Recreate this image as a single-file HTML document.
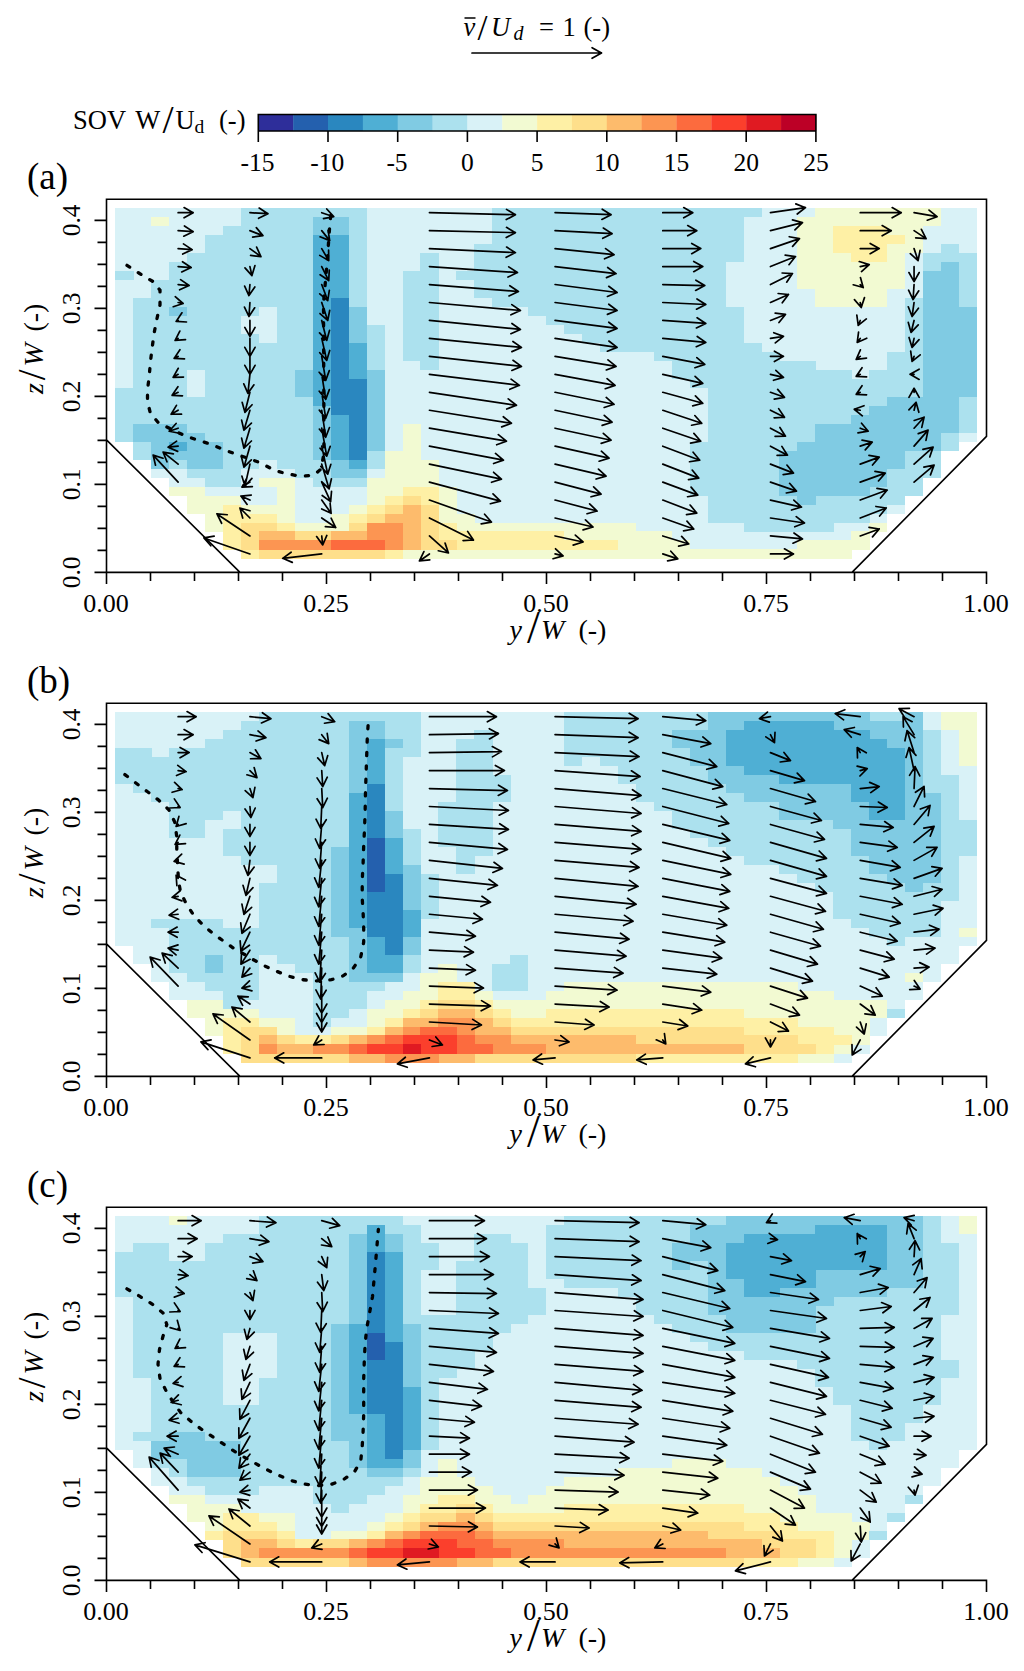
<!DOCTYPE html>
<html><head><meta charset="utf-8"><title>Figure</title>
<style>html,body{margin:0;padding:0;background:#fff}svg{display:block}text{font-family:"Liberation Serif", serif;fill:#000}</style></head><body>
<svg width="1024" height="1671" viewBox="0 0 1024 1671">
<rect width="1024" height="1671" fill="#fff"/>
<text y="35.5" font-size="26.5"><tspan x="463.5" font-style="italic">v</tspan><tspan x="477.5" font-size="36" dy="4">/</tspan><tspan x="491" dy="-4" font-style="italic">U</tspan><tspan x="513.5" font-style="italic" font-size="20" dy="4.5">d</tspan><tspan x="539" dy="-4.5">=</tspan><tspan x="562.5">1</tspan><tspan x="583.5">(-)</tspan></text>
<path d="M464.5 18h11" stroke="#000" stroke-width="1.5"/>
<path d="M472 53L601.5 53M592.1 47.68L601.5 53M592.1 58.32L601.5 53" fill="none" stroke="#000" stroke-width="1.7" stroke-linecap="round"/>
<rect x="258.3" y="114.5" width="35.15" height="16.5" fill="#2E2E9A"/>
<rect x="293.15" y="114.5" width="35.15" height="16.5" fill="#2460AE"/>
<rect x="328" y="114.5" width="35.15" height="16.5" fill="#2A87BF"/>
<rect x="362.85" y="114.5" width="35.15" height="16.5" fill="#4FAFD4"/>
<rect x="397.7" y="114.5" width="35.15" height="16.5" fill="#80CBE3"/>
<rect x="432.55" y="114.5" width="35.15" height="16.5" fill="#ACE1EE"/>
<rect x="467.4" y="114.5" width="35.15" height="16.5" fill="#D9F2F7"/>
<rect x="502.25" y="114.5" width="35.15" height="16.5" fill="#F2FAD2"/>
<rect x="537.1" y="114.5" width="35.15" height="16.5" fill="#FEF0A5"/>
<rect x="571.95" y="114.5" width="35.15" height="16.5" fill="#FEDF8B"/>
<rect x="606.8" y="114.5" width="35.15" height="16.5" fill="#FDBB6C"/>
<rect x="641.65" y="114.5" width="35.15" height="16.5" fill="#FC9552"/>
<rect x="676.5" y="114.5" width="35.15" height="16.5" fill="#FC6B3E"/>
<rect x="711.35" y="114.5" width="35.15" height="16.5" fill="#FB3F2C"/>
<rect x="746.2" y="114.5" width="35.15" height="16.5" fill="#E01A22"/>
<rect x="781.05" y="114.5" width="35.15" height="16.5" fill="#BC0026"/>
<path d="M258.3 131V114.5H815.9V131M258.3 131H815.9M258.3 131v11M328 131v11M397.7 131v11M467.4 131v11M537.1 131v11M606.8 131v11M676.5 131v11M746.2 131v11M815.9 131v11" fill="none" stroke="#000" stroke-width="1.6"/>
<text x="257.6" y="171.3" text-anchor="middle" font-size="25.5">-15</text>
<text x="327.3" y="171.3" text-anchor="middle" font-size="25.5">-10</text>
<text x="397" y="171.3" text-anchor="middle" font-size="25.5">-5</text>
<text x="467.4" y="171.3" text-anchor="middle" font-size="25.5">0</text>
<text x="537.1" y="171.3" text-anchor="middle" font-size="25.5">5</text>
<text x="606.8" y="171.3" text-anchor="middle" font-size="25.5">10</text>
<text x="676.5" y="171.3" text-anchor="middle" font-size="25.5">15</text>
<text x="746.2" y="171.3" text-anchor="middle" font-size="25.5">20</text>
<text x="815.9" y="171.3" text-anchor="middle" font-size="25.5">25</text>
<text y="129.2" font-size="26.5"><tspan x="73">SOV</tspan><tspan x="135.2">W</tspan><tspan x="162.5" font-size="40" dy="4">/</tspan><tspan x="175.5" dy="-4">U</tspan><tspan x="194.5" font-size="19.5" dy="3.6">d</tspan><tspan x="219" dy="-3.6">(-)</tspan></text>
<g shape-rendering="crispEdges"><path fill="#D9F2F7" d="M115.3 208.2h125.95v9.28h-125.95zM366.6 208.2h125.95v36.22h-125.95zM761.5 208.2h54.15v9.28h-54.15zM941 208.2h36.2v18.26h-36.2zM115.3 217.18h36.2v9.28h-36.2zM115.3 280.04h36.2v18.26h-36.2zM169.15 217.18h72.1v9.28h-72.1zM743.55 217.18h54.15v45.2h-54.15zM115.3 226.16h108v9.28h-108zM923.05 226.16h54.15v18.26h-54.15zM115.3 235.14h90.05v18.26h-90.05zM366.6 244.12h108v9.28h-108zM923.05 244.12h18.25v9.28h-18.25zM958.95 244.12h18.25v9.28h-18.25zM958.95 432.7h18.25v9.28h-18.25zM115.3 253.1h72.1v9.28h-72.1zM366.6 253.1h54.15v18.26h-54.15zM438.4 253.1h36.2v18.26h-36.2zM438.4 280.04h36.2v18.26h-36.2zM905.1 253.1h18.25v36.22h-18.25zM115.3 262.08h54.15v9.28h-54.15zM725.6 262.08h72.1v27.24h-72.1zM133.25 271.06h36.2v9.28h-36.2zM366.6 271.06h36.2v54.18h-36.2zM438.4 271.06h18.25v9.28h-18.25zM725.6 289.02h90.05v18.26h-90.05zM887.15 289.02h36.2v9.28h-36.2zM115.3 298h18.25v90.1h-18.25zM438.4 298h54.15v9.28h-54.15zM887.15 298h18.25v9.28h-18.25zM887.15 504.54h18.25v9.28h-18.25zM258.9 306.98h18.25v9.28h-18.25zM258.9 333.92h18.25v9.28h-18.25zM258.9 459.64h18.25v9.28h-18.25zM438.4 306.98h90.05v9.28h-90.05zM743.55 306.98h161.85v36.22h-161.85zM240.95 315.96h36.2v18.26h-36.2zM240.95 495.56h36.2v9.28h-36.2zM438.4 315.96h108v9.28h-108zM384.55 324.94h18.25v36.22h-18.25zM384.55 423.72h18.25v27.24h-18.25zM438.4 324.94h125.95v9.28h-125.95zM438.4 333.92h143.9v9.28h-143.9zM438.4 342.9h161.85v9.28h-161.85zM761.5 342.9h143.9v9.28h-143.9zM438.4 351.88h215.7v9.28h-215.7zM779.45 351.88h108v9.28h-108zM384.55 360.86h36.2v9.28h-36.2zM438.4 360.86h233.65v9.28h-233.65zM815.35 360.86h72.1v9.28h-72.1zM187.1 369.84h18.25v27.24h-18.25zM384.55 369.84h287.5v9.28h-287.5zM851.25 369.84h18.25v9.28h-18.25zM384.55 378.82h305.45v9.28h-305.45zM384.55 387.8h323.4v36.22h-323.4zM420.45 423.72h287.5v18.26h-287.5zM420.45 441.68h269.55v18.26h-269.55zM438.4 459.64h251.6v27.24h-251.6zM151.2 468.62h36.2v9.28h-36.2zM240.95 468.62h54.15v9.28h-54.15zM366.6 468.62h18.25v9.28h-18.25zM169.15 477.6h36.2v9.28h-36.2zM240.95 477.6h18.25v9.28h-18.25zM294.8 477.6h18.25v9.28h-18.25zM205.05 486.58h72.1v9.28h-72.1zM294.8 486.58h72.1v18.26h-72.1zM456.35 486.58h233.65v9.28h-233.65zM456.35 495.56h251.6v18.26h-251.6zM294.8 504.54h54.15v9.28h-54.15zM294.8 513.52h36.2v9.28h-36.2zM474.3 513.52h233.65v9.28h-233.65zM869.2 513.52h18.25v9.28h-18.25zM635.85 522.5h108v9.28h-108zM833.3 522.5h36.2v9.28h-36.2zM671.75 531.48h179.8v9.28h-179.8zM689.7 540.46h108v9.28h-108z"/>
<path fill="#ACE1EE" d="M240.95 208.2h125.95v9.28h-125.95zM492.25 208.2h269.55v9.28h-269.55zM240.95 217.18h72.1v9.28h-72.1zM348.65 217.18h18.25v90.1h-18.25zM492.25 217.18h251.6v27.24h-251.6zM223 226.16h90.05v9.28h-90.05zM223 441.68h90.05v18.26h-90.05zM205.05 235.14h108v18.26h-108zM205.05 432.7h108v9.28h-108zM474.3 244.12h269.55v18.26h-269.55zM941 244.12h18.25v9.28h-18.25zM941 432.7h18.25v18.26h-18.25zM187.1 253.1h125.95v9.28h-125.95zM187.1 423.72h125.95v9.28h-125.95zM420.45 253.1h18.25v18.26h-18.25zM420.45 360.86h18.25v9.28h-18.25zM923.05 253.1h54.15v9.28h-54.15zM169.15 262.08h143.9v18.26h-143.9zM474.3 262.08h251.6v9.28h-251.6zM474.3 280.04h251.6v18.26h-251.6zM923.05 262.08h18.25v9.28h-18.25zM958.95 262.08h18.25v45.2h-18.25zM958.95 396.78h18.25v36.22h-18.25zM115.3 271.06h18.25v9.28h-18.25zM115.3 423.72h18.25v18.26h-18.25zM402.5 271.06h36.2v90.1h-36.2zM456.35 271.06h269.55v9.28h-269.55zM151.2 280.04h161.85v18.26h-161.85zM133.25 298h179.8v9.28h-179.8zM133.25 342.9h179.8v27.24h-179.8zM492.25 298h233.65v9.28h-233.65zM905.1 298h18.25v54.18h-18.25zM133.25 306.98h36.2v9.28h-36.2zM187.1 306.98h72.1v9.28h-72.1zM276.85 306.98h36.2v36.22h-36.2zM528.15 306.98h215.7v9.28h-215.7zM133.25 315.96h108v18.26h-108zM546.1 315.96h197.75v9.28h-197.75zM366.6 324.94h18.25v45.2h-18.25zM366.6 450.66h18.25v18.26h-18.25zM564.05 324.94h179.8v9.28h-179.8zM133.25 333.92h125.95v9.28h-125.95zM582 333.92h161.85v9.28h-161.85zM599.95 342.9h161.85v9.28h-161.85zM653.8 351.88h125.95v9.28h-125.95zM887.15 351.88h36.2v18.26h-36.2zM887.15 477.6h36.2v9.28h-36.2zM671.75 360.86h143.9v9.28h-143.9zM133.25 369.84h54.15v18.26h-54.15zM205.05 369.84h90.05v27.24h-90.05zM671.75 369.84h179.8v9.28h-179.8zM869.2 369.84h54.15v9.28h-54.15zM869.2 486.58h54.15v9.28h-54.15zM689.7 378.82h233.65v9.28h-233.65zM115.3 387.8h72.1v9.28h-72.1zM707.65 387.8h215.7v9.28h-215.7zM115.3 396.78h197.75v27.24h-197.75zM707.65 396.78h179.8v9.28h-179.8zM707.65 504.54h179.8v9.28h-179.8zM707.65 405.76h161.85v9.28h-161.85zM707.65 513.52h161.85v9.28h-161.85zM707.65 414.74h143.9v9.28h-143.9zM707.65 423.72h108v18.26h-108zM133.25 441.68h18.25v18.26h-18.25zM689.7 441.68h108v9.28h-108zM689.7 450.66h90.05v45.2h-90.05zM905.1 450.66h36.2v18.26h-36.2zM169.15 459.64h18.25v9.28h-18.25zM223 459.64h36.2v9.28h-36.2zM276.85 459.64h54.15v9.28h-54.15zM187.1 468.62h54.15v9.28h-54.15zM294.8 468.62h36.2v9.28h-36.2zM887.15 468.62h54.15v9.28h-54.15zM205.05 477.6h36.2v9.28h-36.2zM312.75 477.6h54.15v9.28h-54.15zM707.65 495.56h90.05v9.28h-90.05zM815.35 495.56h90.05v9.28h-90.05zM743.55 522.5h90.05v9.28h-90.05z"/>
<path fill="#F2FAD2" d="M815.35 208.2h125.95v9.28h-125.95zM151.2 217.18h18.25v9.28h-18.25zM797.4 217.18h143.9v9.28h-143.9zM797.4 226.16h36.2v27.24h-36.2zM887.15 226.16h36.2v9.28h-36.2zM887.15 244.12h36.2v9.28h-36.2zM905.1 235.14h18.25v9.28h-18.25zM797.4 253.1h54.15v9.28h-54.15zM887.15 253.1h18.25v9.28h-18.25zM797.4 262.08h108v27.24h-108zM815.35 289.02h72.1v18.26h-72.1zM402.5 423.72h18.25v27.24h-18.25zM384.55 450.66h36.2v9.28h-36.2zM384.55 459.64h54.15v18.26h-54.15zM258.9 477.6h36.2v9.28h-36.2zM366.6 477.6h72.1v9.28h-72.1zM169.15 486.58h36.2v9.28h-36.2zM276.85 486.58h18.25v18.26h-18.25zM276.85 513.52h18.25v9.28h-18.25zM366.6 486.58h36.2v9.28h-36.2zM438.4 486.58h18.25v27.24h-18.25zM187.1 495.56h54.15v9.28h-54.15zM366.6 495.56h18.25v9.28h-18.25zM187.1 504.54h36.2v9.28h-36.2zM240.95 504.54h54.15v9.28h-54.15zM348.65 504.54h18.25v9.28h-18.25zM205.05 513.52h18.25v18.26h-18.25zM330.7 513.52h18.25v9.28h-18.25zM438.4 513.52h36.2v9.28h-36.2zM294.8 522.5h54.15v9.28h-54.15zM456.35 522.5h179.8v9.28h-179.8zM869.2 522.5h18.25v9.28h-18.25zM564.05 531.48h108v9.28h-108zM851.25 531.48h18.25v9.28h-18.25zM617.9 540.46h72.1v9.28h-72.1zM797.4 540.46h72.1v9.28h-72.1zM402.5 549.44h449.05v9.28h-449.05z"/>
<path fill="#80CBE3" d="M312.75 217.18h36.2v18.26h-36.2zM941 262.08h18.25v9.28h-18.25zM923.05 271.06h36.2v36.22h-36.2zM169.15 306.98h18.25v9.28h-18.25zM348.65 306.98h18.25v36.22h-18.25zM923.05 306.98h54.15v90.1h-54.15zM294.8 369.84h18.25v27.24h-18.25zM366.6 369.84h18.25v81.12h-18.25zM887.15 396.78h72.1v9.28h-72.1zM312.75 405.76h18.25v54.18h-18.25zM869.2 405.76h90.05v9.28h-90.05zM851.25 414.74h108v9.28h-108zM133.25 423.72h54.15v9.28h-54.15zM815.35 423.72h143.9v9.28h-143.9zM133.25 432.7h72.1v9.28h-72.1zM815.35 432.7h125.95v9.28h-125.95zM151.2 441.68h18.25v9.28h-18.25zM151.2 459.64h18.25v9.28h-18.25zM187.1 441.68h36.2v9.28h-36.2zM187.1 459.64h36.2v9.28h-36.2zM797.4 441.68h143.9v9.28h-143.9zM151.2 450.66h72.1v9.28h-72.1zM779.45 450.66h125.95v18.26h-125.95zM330.7 459.64h18.25v9.28h-18.25zM330.7 468.62h36.2v9.28h-36.2zM779.45 468.62h108v18.26h-108zM779.45 486.58h90.05v9.28h-90.05zM797.4 495.56h18.25v9.28h-18.25z"/>
<path fill="#FEF0A5" d="M833.3 226.16h54.15v9.28h-54.15zM833.3 244.12h54.15v9.28h-54.15zM833.3 235.14h72.1v9.28h-72.1zM851.25 253.1h36.2v9.28h-36.2zM402.5 486.58h36.2v9.28h-36.2zM384.55 495.56h18.25v9.28h-18.25zM384.55 549.44h18.25v9.28h-18.25zM420.45 495.56h18.25v9.28h-18.25zM223 504.54h18.25v9.28h-18.25zM223 522.5h18.25v27.24h-18.25zM366.6 504.54h18.25v9.28h-18.25zM223 513.52h54.15v9.28h-54.15zM348.65 513.52h18.25v9.28h-18.25zM276.85 522.5h18.25v9.28h-18.25zM438.4 522.5h18.25v9.28h-18.25zM438.4 531.48h125.95v9.28h-125.95zM456.35 540.46h161.85v9.28h-161.85zM240.95 549.44h18.25v9.28h-18.25z"/>
<path fill="#4FAFD4" d="M312.75 235.14h36.2v63.16h-36.2zM312.75 298h18.25v108.06h-18.25zM348.65 342.9h18.25v36.22h-18.25zM348.65 459.64h18.25v9.28h-18.25zM330.7 414.74h18.25v45.2h-18.25zM169.15 441.68h18.25v9.28h-18.25z"/>
<path fill="#2A87BF" d="M330.7 298h18.25v81.12h-18.25zM330.7 378.82h36.2v36.22h-36.2zM348.65 414.74h18.25v45.2h-18.25z"/>
<path fill="#FEDF8B" d="M402.5 495.56h18.25v9.28h-18.25zM384.55 504.54h18.25v9.28h-18.25zM420.45 504.54h18.25v36.22h-18.25zM366.6 513.52h18.25v9.28h-18.25zM240.95 522.5h36.2v9.28h-36.2zM348.65 522.5h18.25v9.28h-18.25zM240.95 531.48h18.25v18.26h-18.25zM294.8 531.48h36.2v9.28h-36.2zM420.45 540.46h36.2v9.28h-36.2zM258.9 549.44h125.95v9.28h-125.95z"/>
<path fill="#FDBB6C" d="M402.5 504.54h18.25v9.28h-18.25zM402.5 522.5h18.25v27.24h-18.25zM384.55 513.52h36.2v9.28h-36.2zM258.9 531.48h36.2v9.28h-36.2zM330.7 531.48h36.2v9.28h-36.2z"/>
<path fill="#FC9552" d="M366.6 522.5h36.2v18.26h-36.2zM258.9 540.46h72.1v9.28h-72.1zM384.55 540.46h18.25v9.28h-18.25z"/>
<path fill="#FC6B3E" d="M330.7 540.46h54.15v9.28h-54.15z"/></g>
<path d="M178.12 212.69L193.12 212.69M184.07 207.57L193.12 212.69M184.07 217.81L193.12 212.69M178.12 230.65L193.12 231.65M184.43 225.94L193.12 231.65M183.75 236.16L193.12 231.65M178.12 248.61L192.12 249.61M183.46 243.86L192.12 249.61M182.73 254.07L192.12 249.61M178.12 266.57L191.12 267.57M182.49 261.77L191.12 267.57M181.71 271.98L191.12 267.57M178.12 284.53L189.12 285.53M180.57 279.61L189.12 285.53M179.65 289.81L189.12 285.53M178.12 302.49L183.12 303.49M175.25 296.69L183.12 303.49M173.24 306.74L183.12 303.49M178.12 320.45L176.12 321.45M186.51 321.98L176.12 321.45M181.93 312.82L176.12 321.45M178.12 338.41L175.12 340.41M185.5 339.65L175.12 340.41M179.82 331.13L175.12 340.41M178.12 356.37L174.12 358.37M184.51 358.9L174.12 358.37M179.93 349.74L174.12 358.37M178.12 374.33L173.12 377.33M183.52 377.06L173.12 377.33M178.25 368.28L173.12 377.33M178.12 392.29L172.12 395.29M182.51 395.82L172.12 395.29M177.93 386.66L172.12 395.29M178.12 410.25L171.12 414.25M181.52 414.21L171.12 414.25M176.44 405.31L171.12 414.25M178.12 428.21L169.12 431.21M179.33 433.21L169.12 431.21M176.09 423.49L169.12 431.21M178.12 446.17L168.12 447.17M177.64 451.37L168.12 447.17M176.62 441.17L168.12 447.17M178.12 464.13L163.12 452.13M166.99 461.78L163.12 452.13M173.39 453.79L163.12 452.13M178.12 482.09L153.12 455.09M155.52 465.21L153.12 455.09M163.03 458.25L153.12 455.09M249.93 212.69L267.93 213.69M259.17 208.07L267.93 213.69M258.6 218.3L267.93 213.69M249.93 230.65L262.93 235.65M256.32 227.62L262.93 235.65M252.64 237.18L262.93 235.65M249.93 248.61L260.93 256.61M256.62 247.14L260.93 256.61M250.59 255.43L260.93 256.61M249.93 266.57L251.93 275.57M254.96 265.62L251.93 275.57M244.96 267.84L251.93 275.57M249.93 284.53L248.93 295.53M254.84 286.98L248.93 295.53M244.64 286.05L248.93 295.53M249.93 302.49L248.93 316.49M254.68 307.83L248.93 316.49M244.46 307.1L248.93 316.49M249.93 320.45L249.93 336.45M255.05 327.4L249.93 336.45M244.8 327.4L249.93 336.45M249.93 338.41L249.93 356.41M255.05 347.36L249.93 356.41M244.8 347.36L249.93 356.41M249.93 356.37L249.93 374.37M255.05 365.32L249.93 374.37M244.8 365.32L249.93 374.37M249.93 374.33L247.93 393.33M253.97 384.86L247.93 393.33M243.78 383.79L247.93 393.33M249.93 392.29L244.93 412.29M252.09 404.75L244.93 412.29M242.15 402.27L244.93 412.29M249.93 410.25L243.93 430.25M251.43 423.05L243.93 430.25M241.62 420.11L243.93 430.25M249.93 428.21L243.93 448.21M251.43 441.01L243.93 448.21M241.62 438.07L243.93 448.21M249.93 446.17L243.93 467.17M251.34 459.87L243.93 467.17M241.49 457.06L243.93 467.17M249.93 464.13L244.93 486.13M251.92 478.44L244.93 486.13M241.94 476.17L244.93 486.13M249.93 482.09L241.93 487.09M252.32 486.64L241.93 487.09M246.89 477.95L241.93 487.09M249.93 500.05L240.93 496.05M247.12 504.41L240.93 496.05M251.28 495.05L240.93 496.05M249.93 518.01L239.93 508.01M242.7 518.03L239.93 508.01M249.95 510.79L239.93 508.01M249.93 535.97L216.93 513.97M221.62 523.25L216.93 513.97M227.3 514.73L216.93 513.97M249.93 553.93L203.93 537.93M210.79 545.74L203.93 537.93M214.16 536.07L203.93 537.93M321.72 212.69L333.72 216.69M326.76 208.97L333.72 216.69M323.52 218.69L333.72 216.69M321.72 230.65L329.72 240.65M328.07 230.38L329.72 240.65M320.07 236.78L329.72 240.65M321.72 248.61L328.72 260.61M328.59 250.21L328.72 260.61M319.74 255.37L328.72 260.61M321.72 266.57L328.72 280.57M329.26 270.18L328.72 280.57M320.1 274.76L328.72 280.57M321.72 284.53L327.72 300.53M329.34 290.26L327.72 300.53M319.75 293.85L327.72 300.53M321.72 302.49L327.72 320.49M329.72 310.28L327.72 320.49M320 313.52L327.72 320.49M321.72 320.45L326.72 340.45M329.5 330.43L326.72 340.45M319.56 332.91L326.72 340.45M321.72 338.41L326.72 360.41M329.71 350.45L326.72 360.41M319.73 352.72L326.72 360.41M321.72 356.37L325.72 380.37M329.29 370.6L325.72 380.37M319.19 372.28L325.72 380.37M321.72 374.33L325.72 399.33M329.35 389.58L325.72 399.33M319.24 391.2L325.72 399.33M321.72 392.29L325.72 418.29M329.41 408.56L325.72 418.29M319.29 410.12L325.72 418.29M321.72 410.25L325.72 437.25M329.46 427.55L325.72 437.25M319.33 429.05L325.72 437.25M321.72 428.21L326.72 456.21M330.18 446.4L326.72 456.21M320.09 448.2L326.72 456.21M321.72 446.17L327.72 474.17M330.84 464.25L327.72 474.17M320.82 466.39L327.72 474.17M321.72 464.13L329.12 488.93M331.44 478.79L329.12 488.93M321.63 481.72L329.12 488.93M321.72 482.09L330.62 501.59M331.53 491.23L330.62 501.59M322.21 495.48L330.62 501.59M321.72 500.05L331.12 513.35M330.08 503L331.12 513.35M321.72 508.91L331.12 513.35M321.72 518.01L335.72 527.51M331.11 518.19L335.72 527.51M325.36 526.67L335.72 527.51M321.72 535.97L322.72 544.97M326.82 535.41L322.72 544.97M316.64 536.54L322.72 544.97M321.72 553.93L282.72 558.33M292.29 562.4L282.72 558.33M291.15 552.23L282.72 558.33M429.43 212.69L515.42 214.69M506.49 209.36L515.42 214.69M506.26 219.6L515.42 214.69M429.43 230.65L515.42 232.65M506.49 227.32L515.42 232.65M506.26 237.56L515.42 232.65M429.43 248.61L515.42 252.61M506.62 247.07L515.42 252.61M506.15 257.31L515.42 252.61M429.43 266.57L517.42 272.57M508.74 266.84L517.42 272.57M508.05 277.06L517.42 272.57M429.43 284.53L518.42 291.53M509.8 285.71L518.42 291.53M509 295.93L518.42 291.53M429.43 302.49L520.42 310.49M511.86 304.6L520.42 310.49M510.96 314.8L520.42 310.49M429.43 320.45L520.42 329.45M511.92 323.46L520.42 329.45M510.91 333.66L520.42 329.45M429.43 338.41L521.42 347.41M512.91 341.43L521.42 347.41M511.92 351.63L521.42 347.41M429.43 356.37L521.42 366.37M512.98 360.3L521.42 366.37M511.87 370.48L521.42 366.37M429.43 374.33L519.42 385.33M511.06 379.15L519.42 385.33M509.82 389.32L519.42 385.33M429.43 392.29L516.42 405.29M508.23 398.89L516.42 405.29M506.72 409.02L516.42 405.29M429.43 410.25L511.43 423.25M503.29 416.77L511.43 423.25M501.68 426.89L511.43 423.25M429.43 428.21L506.43 441.21M498.35 434.65L506.43 441.21M496.65 444.75L506.43 441.21M429.43 446.17L503.43 460.17M495.48 453.46L503.43 460.17M493.58 463.52L503.43 460.17M429.43 464.13L501.43 479.13M493.61 472.27L501.43 479.13M491.52 482.3L501.43 479.13M429.43 482.09L500.43 501.09M493 493.8L500.43 501.09M490.36 503.7L500.43 501.09M429.43 500.05L491.43 522.05M484.61 514.2L491.43 522.05M481.18 523.85L491.43 522.05M429.43 518.01L473.43 540.01M467.62 531.38L473.43 540.01M463.04 540.54L473.43 540.01M429.43 535.97L448.43 552.97M445.09 543.12L448.43 552.97M438.26 550.75L448.43 552.97M429.43 553.93L419.43 560.93M429.78 559.93L419.43 560.93M423.9 551.54L419.43 560.93M555.07 212.69L611.07 214.69M602.21 209.25L611.07 214.69M601.85 219.48L611.07 214.69M555.07 230.65L612.07 233.65M603.3 228.06L612.07 233.65M602.77 238.29L612.07 233.65M555.07 248.61L614.07 254.61M605.59 248.6L614.07 254.61M604.55 258.79L614.07 254.61M555.07 266.57L616.07 273.57M607.67 267.45L616.07 273.57M606.5 277.63L616.07 273.57M555.07 284.53L617.07 292.53M608.75 286.29L617.07 292.53M607.44 296.45L617.07 292.53M555.07 302.49L617.07 310.49M608.75 304.25L617.07 310.49M607.44 314.41L617.07 310.49M555.07 320.45L617.07 328.45M608.75 322.21L617.07 328.45M607.44 332.37L617.07 328.45M555.07 338.41L617.07 347.41M608.85 341.04L617.07 347.41M607.38 351.18L617.07 347.41M555.07 356.37L616.07 366.37M607.97 359.85L616.07 366.37M606.31 369.96L616.07 366.37M555.07 374.33L615.07 385.33M607.1 378.66L615.07 385.33M605.25 388.73L615.07 385.33M555.07 392.29L614.07 404.29M606.23 397.47L614.07 404.29M604.18 407.5L614.07 404.29M555.07 410.25L612.07 422.25M604.27 415.37L612.07 422.25M602.16 425.4L612.07 422.25M555.07 428.21L611.07 440.21M603.3 433.31L611.07 440.21M601.15 443.32L611.07 440.21M555.07 446.17L609.07 458.17M601.35 451.21L609.07 458.17M599.13 461.21L609.07 458.17M555.07 464.13L606.07 476.13M598.44 469.07L606.07 476.13M596.09 479.04L606.07 476.13M555.07 482.09L601.07 494.09M593.61 486.85L601.07 494.09M591.02 496.76L601.07 494.09M555.07 500.05L597.07 511.05M589.62 503.8L597.07 511.05M587.02 513.71L597.07 511.05M555.07 518.01L593.07 527.01M585.45 519.94L593.07 527.01M583.09 529.91L593.07 527.01M555.07 535.97L583.07 541.97M575.3 535.07L583.07 541.97M573.15 545.08L583.07 541.97M555.07 553.93L563.07 555.93M555.54 548.77L563.07 555.93M553.05 558.7L563.07 555.93M662.77 212.69L692.77 212.69M683.72 207.57L692.77 212.69M683.72 217.81L692.77 212.69M662.77 230.65L696.77 230.65M687.72 225.53L696.77 230.65M687.72 235.77L696.77 230.65M662.77 248.61L700.77 248.61M691.72 243.49L700.77 248.61M691.72 253.73L700.77 248.61M662.77 266.57L702.77 266.57M693.72 261.45L702.77 266.57M693.72 271.69L702.77 266.57M662.77 284.53L704.77 285.53M695.85 280.19L704.77 285.53M695.6 290.43L704.77 285.53M662.77 302.49L705.77 304.49M696.97 298.95L705.77 304.49M696.5 309.19L705.77 304.49M662.77 320.45L705.77 323.45M697.1 317.71L705.77 323.45M696.39 327.93L705.77 323.45M662.77 338.41L705.77 342.41M697.24 336.47L705.77 342.41M696.29 346.67L705.77 342.41M662.77 356.37L704.77 364.37M696.84 357.65L704.77 364.37M694.92 367.71L704.77 364.37M662.77 374.33L702.77 383.33M695.07 376.35L702.77 383.33M692.82 386.34L702.77 383.33M662.77 392.29L702.77 403.29M695.41 395.95L702.77 403.29M692.69 405.83L702.77 403.29M662.77 410.25L701.77 423.25M694.81 415.53L701.77 423.25M691.57 425.25L701.77 423.25M662.77 428.21L700.77 441.21M693.87 433.43L700.77 441.21M690.55 443.13L700.77 441.21M662.77 446.17L699.77 460.17M693.12 452.18L699.77 460.17M689.5 461.76L699.77 460.17M662.77 464.13L698.77 478.13M692.19 470.08L698.77 478.13M688.48 479.62L698.77 478.13M662.77 482.09L697.77 495.09M691.07 487.14L697.77 495.09M687.51 496.74L697.77 495.09M662.77 500.05L696.77 513.05M690.15 505.03L696.77 513.05M686.49 514.6L696.77 513.05M662.77 518.01L693.77 529.01M686.96 521.16L693.77 529.01M683.53 530.81L693.77 529.01M662.77 535.97L688.77 543.97M681.63 536.41L688.77 543.97M678.62 546.2L688.77 543.97M662.77 553.93L677.77 558.93M670.81 551.21L677.77 558.93M667.57 560.93L677.77 558.93M770.47 212.69L805.47 207.69M795.79 203.9L805.47 207.69M797.24 214.04L805.47 207.69M770.47 230.65L802.47 222.65M792.45 219.88L802.47 222.65M794.94 229.81L802.47 222.65M770.47 248.61L799.47 238.61M789.25 236.72L799.47 238.61M792.59 246.4L799.47 238.61M770.47 266.57L795.47 256.57M785.17 255.18L795.47 256.57M788.97 264.69L795.47 256.57M770.47 284.53L792.47 273.53M782.09 273L792.47 273.53M786.67 282.16L792.47 273.53M770.47 302.49L788.47 294.49M778.12 293.49L788.47 294.49M782.28 302.85L788.47 294.49M770.47 320.45L785.47 314.45M775.17 313.06L785.47 314.45M778.97 322.57L785.47 314.45M770.47 338.41L783.47 336.41M773.75 332.72L783.47 336.41M775.31 342.85L783.47 336.41M770.47 356.37L783.47 356.37M774.42 351.25L783.47 356.37M774.42 361.49L783.47 356.37M770.47 374.33L783.47 377.33M775.81 370.3L783.47 377.33M773.5 380.28L783.47 377.33M770.47 392.29L784.47 397.29M777.67 389.42L784.47 397.29M774.23 399.07L784.47 397.29M770.47 410.25L784.47 417.25M778.67 408.62L784.47 417.25M774.09 417.78L784.47 417.25M770.47 428.21L785.47 436.21M779.9 427.43L785.47 436.21M775.08 436.47L785.47 436.21M770.47 446.17L787.47 455.17M781.87 446.41L787.47 455.17M777.08 455.46L787.47 455.17M770.47 464.13L793.47 473.13M786.91 465.06L793.47 473.13M783.18 474.6L793.47 473.13M770.47 482.09L796.47 491.09M789.6 483.29L796.47 491.09M786.25 492.97L796.47 491.09M770.47 500.05L801.47 507.05M793.77 500.06L801.47 507.05M791.52 510.05L801.47 507.05M770.47 518.01L804.47 523.01M796.26 516.63L804.47 523.01M794.77 526.76L804.47 523.01M770.47 535.97L802.47 538.97M793.94 533.03L802.47 538.97M792.98 543.22L802.47 538.97M770.47 553.93L793.47 553.93M784.42 548.81L793.47 553.93M784.42 559.05L793.47 553.93M860.22 212.69L901.22 212.69M892.17 207.57L901.22 212.69M892.17 217.81L901.22 212.69M860.22 230.65L891.22 230.65M882.17 225.53L891.22 230.65M882.17 235.77L891.22 230.65M860.22 248.61L879.22 248.61M870.17 243.49L879.22 248.61M870.17 253.73L879.22 248.61M860.22 266.57L869.22 264.57M859.28 261.53L869.22 264.57M861.5 271.53L869.22 264.57M860.22 284.53L863.22 287.53M860.45 277.51L863.22 287.53M853.2 284.75L863.22 287.53M860.22 302.49L861.22 307.49M864.47 297.61L861.22 307.49M854.43 299.62L861.22 307.49M860.22 320.45L858.22 325.45M866.34 318.95L858.22 325.45M856.83 315.14L858.22 325.45M860.22 338.41L857.22 342.41M866.75 338.24L857.22 342.41M858.56 332.1L857.22 342.41M860.22 356.37L856.22 359.37M866.54 358.04L856.22 359.37M860.39 349.84L856.22 359.37M860.22 374.33L856.22 376.33M866.61 376.86L856.22 376.33M862.03 367.7L856.22 376.33M860.22 392.29L856.22 394.29M866.61 394.82L856.22 394.29M862.03 385.66L856.22 394.29M860.22 410.25L854.22 409.25M862.31 415.79L854.22 409.25M864 405.69L854.22 409.25M860.22 428.21L868.22 431.21M861.55 423.24L868.22 431.21M857.95 432.83L868.22 431.21M860.22 446.17L872.22 442.17M862.02 440.17L872.22 442.17M865.26 449.89L872.22 442.17M860.22 464.13L879.22 457.13M868.96 455.45L879.22 457.13M872.5 465.06L879.22 457.13M860.22 482.09L885.22 473.09M874.97 471.34L885.22 473.09M878.44 480.97L885.22 473.09M860.22 500.05L887.22 490.05M876.96 488.39L887.22 490.05M880.52 498L887.22 490.05M860.22 518.01L886.22 508.01M875.94 506.48L886.22 508.01M879.62 516.04L886.22 508.01M860.22 535.97L879.22 528.97M868.96 527.29L879.22 528.97M872.5 536.9L879.22 528.97M914.07 212.69L937.07 216.69M929.03 210.09L937.07 216.69M927.28 220.18L937.07 216.69M914.07 230.65L926.07 238.65M921.38 229.37L926.07 238.65M915.7 237.89L926.07 238.65M914.07 248.61L918.07 260.61M920.07 250.4L918.07 260.61M910.35 253.64L918.07 260.61M914.07 266.57L914.07 281.57M919.2 272.52L914.07 281.57M908.95 272.52L914.07 281.57M914.07 284.53L913.07 299.53M918.79 290.84L913.07 299.53M908.57 290.16L913.07 299.53M914.07 302.49L912.07 316.49M918.42 308.25L912.07 316.49M908.29 306.81L912.07 316.49M914.07 320.45L911.07 332.45M918.24 324.91L911.07 332.45M908.3 322.43L911.07 332.45M914.07 338.41L912.07 347.41M919.04 339.68L912.07 347.41M909.04 337.46L912.07 347.41M914.07 356.37L912.07 361.37M920.19 354.87L912.07 361.37M910.68 351.06L912.07 361.37M914.07 374.33L910.07 374.33M919.13 379.45L910.07 374.33M919.13 369.21L910.07 374.33M914.07 392.29L914.07 388.29M908.95 397.34L914.07 388.29M919.2 397.34L914.07 388.29M914.07 410.25L916.07 402.25M908.91 409.79L916.07 402.25M918.85 412.27L916.07 402.25M914.07 428.21L924.07 417.21M914.2 420.46L924.07 417.21M921.78 427.35L924.07 417.21M914.07 446.17L928.07 430.17M918.26 433.61L928.07 430.17M925.97 440.35L928.07 430.17M914.07 464.13L933.07 447.13M922.91 449.35L933.07 447.13M929.74 456.98L933.07 447.13M914.07 482.09L934.07 465.09M923.86 467.05L934.07 465.09M930.49 474.85L934.07 465.09" fill="none" stroke="#000" stroke-width="1.7" stroke-linecap="round" stroke-linejoin="round"/>
<path d="M127 265.3L139.6 273.5L152.7 281.4L160 290.2L160 304.9L157.1 318L154.2 332.7L152.2 347.4L150.4 362L149.2 376.7L147.5 389.8L147.5 401.6L150.4 413.3L158.6 423L171.8 429.4L185 435.8L196.7 439.7L209.9 444L223 449.3L236.2 454.3L249.4 458.7L261.1 463.1L274.3 470.4L287.5 473.9L300.7 476.3L313.9 475.2L321 469L323.5 456L324 440L323.5 303L327 264L330 222L331 214" fill="none" stroke="#000" stroke-width="3.3" stroke-linecap="round" stroke-dasharray="3.2 10.24"/>
<path d="M106.5 572.4L106.5 199.2L986.5 199.2L986.5 436.4L852 572.4M94.5 572.4L987.25 572.4M106.5 439.9L240 572.4M106.5 572.4v11.5M150.5 572.4v8.5M194.5 572.4v8.5M238.5 572.4v8.5M282.5 572.4v8.5M326.5 572.4v11.5M370.5 572.4v8.5M414.5 572.4v8.5M458.5 572.4v8.5M502.5 572.4v8.5M546.5 572.4v11.5M590.5 572.4v8.5M634.5 572.4v8.5M678.5 572.4v8.5M722.5 572.4v8.5M766.5 572.4v11.5M810.5 572.4v8.5M854.5 572.4v8.5M898.5 572.4v8.5M942.5 572.4v8.5M986.5 572.4v11.5M106.5 572.4h-12M106.5 550.4h-9M106.5 528.4h-9M106.5 506.4h-9M106.5 484.4h-12M106.5 462.4h-9M106.5 440.4h-9M106.5 418.4h-9M106.5 396.4h-12M106.5 374.4h-9M106.5 352.4h-9M106.5 330.4h-9M106.5 308.4h-12M106.5 286.4h-9M106.5 264.4h-9M106.5 242.4h-9M106.5 220.4h-12" fill="none" stroke="#000" stroke-width="1.6" stroke-linecap="butt" stroke-linejoin="miter"/>
<text x="106" y="611.6" text-anchor="middle" font-size="26">0.00</text>
<text x="326" y="611.6" text-anchor="middle" font-size="26">0.25</text>
<text x="546" y="611.6" text-anchor="middle" font-size="26">0.50</text>
<text x="766" y="611.6" text-anchor="middle" font-size="26">0.75</text>
<text x="986" y="611.6" text-anchor="middle" font-size="26">1.00</text>
<text transform="translate(80 572.4) rotate(-90)" text-anchor="middle" font-size="25.5">0.0</text>
<text transform="translate(80 484.4) rotate(-90)" text-anchor="middle" font-size="25.5">0.1</text>
<text transform="translate(80 396.4) rotate(-90)" text-anchor="middle" font-size="25.5">0.2</text>
<text transform="translate(80 308.4) rotate(-90)" text-anchor="middle" font-size="25.5">0.3</text>
<text transform="translate(80 220.4) rotate(-90)" text-anchor="middle" font-size="25.5">0.4</text>
<text transform="translate(42.7 394) rotate(-90)" font-size="28"><tspan x="0" font-style="italic">z</tspan><tspan x="13.8" font-size="39" dy="2">/</tspan><tspan x="27.4" dy="-2" font-style="italic">W</tspan><tspan x="62.4">(-)</tspan></text>
<text y="639" font-size="28"><tspan x="509.5" font-style="italic">y</tspan><tspan x="527" font-size="46" dy="4">/</tspan><tspan x="541" dy="-4" font-style="italic">W</tspan><tspan x="578.4">(-)</tspan></text>
<text x="27" y="189.2" font-size="37">(a)</text>
<g shape-rendering="crispEdges"><path fill="#D9F2F7" d="M115.3 712.2h143.9v9.28h-143.9zM115.3 882.82h143.9v36.22h-143.9zM420.45 712.2h143.9v18.26h-143.9zM923.05 712.2h18.25v18.26h-18.25zM923.05 972.62h18.25v9.28h-18.25zM115.3 721.18h125.95v9.28h-125.95zM115.3 855.88h125.95v9.28h-125.95zM115.3 730.16h108v9.28h-108zM115.3 837.92h108v18.26h-108zM420.45 730.16h54.15v9.28h-54.15zM492.25 730.16h72.1v36.22h-72.1zM941 730.16h18.25v36.22h-18.25zM941 927.72h18.25v9.28h-18.25zM115.3 739.14h90.05v9.28h-90.05zM420.45 739.14h36.2v18.26h-36.2zM420.45 846.9h36.2v27.24h-36.2zM151.2 748.12h18.25v9.28h-18.25zM151.2 963.64h18.25v9.28h-18.25zM402.5 757.1h54.15v45.2h-54.15zM582 757.1h18.25v9.28h-18.25zM492.25 766.08h125.95v9.28h-125.95zM941 766.08h36.2v9.28h-36.2zM941 900.78h36.2v27.24h-36.2zM510.2 775.06h108v9.28h-108zM958.95 775.06h18.25v45.2h-18.25zM958.95 855.88h18.25v45.2h-18.25zM115.3 784.04h18.25v9.28h-18.25zM510.2 784.04h125.95v18.26h-125.95zM115.3 793.02h36.2v9.28h-36.2zM115.3 918.74h36.2v9.28h-36.2zM115.3 802h54.15v36.22h-54.15zM115.3 927.72h54.15v18.26h-54.15zM402.5 802h36.2v27.24h-36.2zM492.25 802h161.85v9.28h-161.85zM223 810.98h18.25v9.28h-18.25zM492.25 810.98h179.8v18.26h-179.8zM205.05 819.96h36.2v9.28h-36.2zM205.05 828.94h18.25v9.28h-18.25zM420.45 828.94h18.25v18.26h-18.25zM420.45 963.64h18.25v9.28h-18.25zM492.25 828.94h197.75v9.28h-197.75zM492.25 837.92h215.7v9.28h-215.7zM492.25 846.9h233.65v9.28h-233.65zM474.3 855.88h269.55v9.28h-269.55zM115.3 864.86h161.85v18.26h-161.85zM474.3 864.86h305.45v9.28h-305.45zM438.4 873.84h359.3v9.28h-359.3zM438.4 882.82h377.25v9.28h-377.25zM438.4 891.8h395.2v27.24h-395.2zM223 918.74h36.2v9.28h-36.2zM420.45 918.74h431.1v9.28h-431.1zM420.45 927.72h449.05v9.28h-449.05zM420.45 936.7h467v9.28h-467zM905.1 936.7h72.1v9.28h-72.1zM133.25 945.68h36.2v18.26h-36.2zM420.45 945.68h538.8v9.28h-538.8zM258.9 954.66h18.25v9.28h-18.25zM420.45 954.66h90.05v9.28h-90.05zM528.15 954.66h431.1v9.28h-431.1zM258.9 963.64h36.2v9.28h-36.2zM456.35 963.64h36.2v18.26h-36.2zM528.15 963.64h413.15v9.28h-413.15zM151.2 972.62h36.2v9.28h-36.2zM258.9 972.62h54.15v27.24h-54.15zM258.9 1008.54h54.15v9.28h-54.15zM402.5 972.62h18.25v9.28h-18.25zM528.15 972.62h377.25v9.28h-377.25zM169.15 981.6h36.2v9.28h-36.2zM384.55 981.6h36.2v9.28h-36.2zM474.3 981.6h18.25v9.28h-18.25zM528.15 981.6h36.2v9.28h-36.2zM797.4 981.6h125.95v9.28h-125.95zM169.15 990.58h54.15v9.28h-54.15zM366.6 990.58h36.2v9.28h-36.2zM492.25 990.58h54.15v9.28h-54.15zM833.3 990.58h90.05v9.28h-90.05zM240.95 999.56h72.1v9.28h-72.1zM366.6 999.56h18.25v9.28h-18.25zM887.15 999.56h18.25v9.28h-18.25zM348.65 1008.54h18.25v9.28h-18.25zM294.8 1017.52h18.25v9.28h-18.25zM330.7 1017.52h36.2v9.28h-36.2zM869.2 1017.52h18.25v18.26h-18.25zM294.8 1026.5h36.2v9.28h-36.2zM851.25 1044.46h18.25v9.28h-18.25zM833.3 1053.44h18.25v9.28h-18.25z"/>
<path fill="#ACE1EE" d="M258.9 712.2h161.85v9.28h-161.85zM564.05 712.2h143.9v18.26h-143.9zM869.2 712.2h36.2v9.28h-36.2zM240.95 721.18h108v9.28h-108zM240.95 810.98h108v18.26h-108zM384.55 721.18h36.2v18.26h-36.2zM384.55 748.12h36.2v9.28h-36.2zM223 730.16h125.95v9.28h-125.95zM223 828.94h125.95v18.26h-125.95zM474.3 730.16h18.25v9.28h-18.25zM564.05 730.16h108v18.26h-108zM923.05 730.16h18.25v45.2h-18.25zM205.05 739.14h143.9v9.28h-143.9zM402.5 739.14h18.25v9.28h-18.25zM402.5 828.94h18.25v36.22h-18.25zM402.5 954.66h18.25v18.26h-18.25zM456.35 739.14h36.2v36.22h-36.2zM456.35 846.9h36.2v9.28h-36.2zM115.3 748.12h36.2v9.28h-36.2zM169.15 748.12h179.8v9.28h-179.8zM169.15 802h179.8v9.28h-179.8zM169.15 936.7h179.8v18.26h-179.8zM564.05 748.12h125.95v9.28h-125.95zM115.3 757.1h233.65v27.24h-233.65zM384.55 757.1h18.25v54.18h-18.25zM564.05 757.1h18.25v9.28h-18.25zM599.95 757.1h90.05v9.28h-90.05zM617.9 766.08h90.05v18.26h-90.05zM456.35 775.06h54.15v27.24h-54.15zM923.05 775.06h36.2v18.26h-36.2zM923.05 882.82h36.2v9.28h-36.2zM133.25 784.04h215.7v9.28h-215.7zM635.85 784.04h90.05v9.28h-90.05zM151.2 793.02h197.75v9.28h-197.75zM635.85 793.02h108v9.28h-108zM941 793.02h18.25v27.24h-18.25zM941 855.88h18.25v27.24h-18.25zM438.4 802h54.15v45.2h-54.15zM653.8 802h125.95v9.28h-125.95zM169.15 810.98h54.15v9.28h-54.15zM671.75 810.98h108v9.28h-108zM169.15 819.96h36.2v18.26h-36.2zM169.15 954.66h36.2v18.26h-36.2zM671.75 819.96h161.85v9.28h-161.85zM941 819.96h36.2v36.22h-36.2zM689.7 828.94h161.85v9.28h-161.85zM707.65 837.92h143.9v9.28h-143.9zM223 846.9h108v9.28h-108zM725.6 846.9h125.95v9.28h-125.95zM240.95 855.88h90.05v9.28h-90.05zM456.35 855.88h18.25v18.26h-18.25zM743.55 855.88h125.95v9.28h-125.95zM276.85 864.86h54.15v18.26h-54.15zM779.45 864.86h90.05v9.28h-90.05zM420.45 873.84h18.25v45.2h-18.25zM797.4 873.84h90.05v9.28h-90.05zM258.9 882.82h72.1v45.2h-72.1zM815.35 882.82h90.05v9.28h-90.05zM833.3 891.8h125.95v9.28h-125.95zM833.3 900.78h108v18.26h-108zM151.2 918.74h72.1v9.28h-72.1zM851.25 918.74h90.05v9.28h-90.05zM169.15 927.72h161.85v9.28h-161.85zM869.2 927.72h72.1v9.28h-72.1zM887.15 936.7h18.25v9.28h-18.25zM887.15 1008.54h18.25v9.28h-18.25zM223 954.66h36.2v18.26h-36.2zM223 990.58h36.2v9.28h-36.2zM276.85 954.66h72.1v9.28h-72.1zM510.2 954.66h18.25v9.28h-18.25zM294.8 963.64h54.15v9.28h-54.15zM492.25 963.64h36.2v27.24h-36.2zM187.1 972.62h72.1v9.28h-72.1zM312.75 972.62h36.2v9.28h-36.2zM312.75 1008.54h36.2v9.28h-36.2zM205.05 981.6h54.15v9.28h-54.15zM312.75 981.6h72.1v9.28h-72.1zM312.75 990.58h54.15v18.26h-54.15zM223 999.56h18.25v9.28h-18.25zM312.75 1017.52h18.25v9.28h-18.25z"/>
<path fill="#80CBE3" d="M707.65 712.2h161.85v9.28h-161.85zM905.1 712.2h18.25v9.28h-18.25zM905.1 748.12h18.25v45.2h-18.25zM905.1 882.82h18.25v9.28h-18.25zM348.65 721.18h36.2v18.26h-36.2zM707.65 721.18h36.2v9.28h-36.2zM707.65 766.08h36.2v9.28h-36.2zM833.3 721.18h90.05v9.28h-90.05zM671.75 730.16h54.15v18.26h-54.15zM869.2 730.16h54.15v9.28h-54.15zM348.65 739.14h18.25v54.18h-18.25zM348.65 936.7h18.25v36.22h-18.25zM384.55 739.14h18.25v9.28h-18.25zM384.55 810.98h18.25v27.24h-18.25zM887.15 739.14h36.2v9.28h-36.2zM689.7 748.12h36.2v18.26h-36.2zM707.65 775.06h72.1v9.28h-72.1zM725.6 784.04h125.95v9.28h-125.95zM743.55 793.02h108v9.28h-108zM905.1 793.02h36.2v27.24h-36.2zM779.45 802h90.05v18.26h-90.05zM833.3 819.96h108v9.28h-108zM851.25 828.94h90.05v27.24h-90.05zM330.7 846.9h18.25v81.12h-18.25zM869.2 855.88h72.1v18.26h-72.1zM402.5 864.86h18.25v45.2h-18.25zM402.5 936.7h18.25v18.26h-18.25zM887.15 873.84h54.15v9.28h-54.15zM330.7 927.72h36.2v9.28h-36.2zM205.05 954.66h18.25v18.26h-18.25zM348.65 972.62h54.15v9.28h-54.15z"/>
<path fill="#F2FAD2" d="M941 712.2h36.2v18.26h-36.2zM958.95 730.16h18.25v36.22h-18.25zM958.95 927.72h18.25v9.28h-18.25zM438.4 963.64h18.25v9.28h-18.25zM420.45 972.62h36.2v9.28h-36.2zM905.1 972.62h18.25v9.28h-18.25zM420.45 981.6h18.25v9.28h-18.25zM564.05 981.6h233.65v9.28h-233.65zM402.5 990.58h36.2v9.28h-36.2zM474.3 990.58h18.25v9.28h-18.25zM546.1 990.58h287.5v9.28h-287.5zM187.1 999.56h36.2v9.28h-36.2zM384.55 999.56h36.2v9.28h-36.2zM492.25 999.56h395.2v9.28h-395.2zM187.1 1008.54h72.1v9.28h-72.1zM366.6 1008.54h36.2v9.28h-36.2zM510.2 1008.54h36.2v9.28h-36.2zM743.55 1008.54h143.9v9.28h-143.9zM205.05 1017.52h18.25v18.26h-18.25zM258.9 1017.52h36.2v9.28h-36.2zM366.6 1017.52h18.25v9.28h-18.25zM797.4 1017.52h72.1v9.28h-72.1zM276.85 1026.5h18.25v9.28h-18.25zM330.7 1026.5h36.2v9.28h-36.2zM833.3 1026.5h36.2v9.28h-36.2zM851.25 1035.48h18.25v9.28h-18.25zM833.3 1044.46h18.25v9.28h-18.25zM797.4 1053.44h36.2v9.28h-36.2z"/>
<path fill="#4FAFD4" d="M743.55 721.18h90.05v9.28h-90.05zM725.6 730.16h143.9v9.28h-143.9zM366.6 739.14h18.25v45.2h-18.25zM366.6 936.7h18.25v18.26h-18.25zM725.6 739.14h161.85v9.28h-161.85zM725.6 748.12h179.8v18.26h-179.8zM743.55 766.08h161.85v9.28h-161.85zM779.45 775.06h125.95v9.28h-125.95zM851.25 784.04h54.15v18.26h-54.15zM348.65 793.02h18.25v135h-18.25zM869.2 802h36.2v18.26h-36.2zM384.55 837.92h18.25v36.22h-18.25zM402.5 909.76h18.25v27.24h-18.25zM366.6 954.66h36.2v18.26h-36.2z"/>
<path fill="#2A87BF" d="M366.6 784.04h18.25v54.18h-18.25zM384.55 873.84h18.25v18.26h-18.25zM384.55 936.7h18.25v18.26h-18.25zM366.6 891.8h36.2v45.2h-36.2z"/>
<path fill="#2460AE" d="M366.6 837.92h18.25v54.18h-18.25z"/>
<path fill="#FEF0A5" d="M438.4 981.6h36.2v18.26h-36.2zM420.45 999.56h18.25v9.28h-18.25zM474.3 999.56h18.25v9.28h-18.25zM402.5 1008.54h18.25v9.28h-18.25zM492.25 1008.54h18.25v9.28h-18.25zM546.1 1008.54h197.75v9.28h-197.75zM223 1017.52h36.2v9.28h-36.2zM384.55 1017.52h18.25v9.28h-18.25zM510.2 1017.52h287.5v9.28h-287.5zM223 1026.5h18.25v27.24h-18.25zM366.6 1026.5h18.25v9.28h-18.25zM743.55 1026.5h90.05v9.28h-90.05zM294.8 1035.48h36.2v9.28h-36.2zM797.4 1035.48h54.15v9.28h-54.15zM815.35 1044.46h18.25v9.28h-18.25zM635.85 1053.44h161.85v9.28h-161.85z"/>
<path fill="#FEDF8B" d="M438.4 999.56h36.2v9.28h-36.2zM420.45 1008.54h18.25v9.28h-18.25zM474.3 1008.54h18.25v9.28h-18.25zM492.25 1017.52h18.25v9.28h-18.25zM240.95 1026.5h36.2v9.28h-36.2zM510.2 1026.5h233.65v9.28h-233.65zM240.95 1035.48h18.25v18.26h-18.25zM276.85 1035.48h18.25v9.28h-18.25zM330.7 1035.48h18.25v9.28h-18.25zM635.85 1035.48h161.85v9.28h-161.85zM743.55 1044.46h72.1v9.28h-72.1zM240.95 1053.44h108v9.28h-108zM474.3 1053.44h161.85v9.28h-161.85z"/>
<path fill="#FDBB6C" d="M438.4 1008.54h36.2v9.28h-36.2zM438.4 1053.44h36.2v9.28h-36.2zM402.5 1017.52h36.2v9.28h-36.2zM474.3 1017.52h18.25v9.28h-18.25zM384.55 1026.5h18.25v9.28h-18.25zM474.3 1026.5h36.2v9.28h-36.2zM258.9 1035.48h18.25v9.28h-18.25zM348.65 1035.48h18.25v9.28h-18.25zM510.2 1035.48h125.95v9.28h-125.95zM276.85 1044.46h36.2v9.28h-36.2zM546.1 1044.46h197.75v9.28h-197.75zM348.65 1053.44h36.2v9.28h-36.2z"/>
<path fill="#FC9552" d="M438.4 1017.52h36.2v9.28h-36.2zM402.5 1026.5h18.25v9.28h-18.25zM456.35 1026.5h18.25v9.28h-18.25zM366.6 1035.48h18.25v9.28h-18.25zM474.3 1035.48h36.2v9.28h-36.2zM258.9 1044.46h18.25v9.28h-18.25zM312.75 1044.46h36.2v9.28h-36.2zM492.25 1044.46h54.15v9.28h-54.15zM384.55 1053.44h54.15v9.28h-54.15z"/>
<path fill="#FC6B3E" d="M420.45 1026.5h36.2v9.28h-36.2zM384.55 1035.48h18.25v9.28h-18.25zM456.35 1035.48h18.25v9.28h-18.25zM348.65 1044.46h18.25v9.28h-18.25zM456.35 1044.46h36.2v9.28h-36.2z"/>
<path fill="#FB3F2C" d="M402.5 1035.48h54.15v9.28h-54.15zM366.6 1044.46h36.2v9.28h-36.2zM420.45 1044.46h36.2v9.28h-36.2z"/>
<path fill="#E01A22" d="M402.5 1044.46h18.25v9.28h-18.25z"/></g>
<path d="M178.12 716.69L196.12 716.69M187.07 711.57L196.12 716.69M187.07 721.81L196.12 716.69M178.12 734.65L193.12 734.65M184.07 729.53L193.12 734.65M184.07 739.77L193.12 734.65M178.12 752.61L189.12 752.61M180.07 747.49L189.12 752.61M180.07 757.73L189.12 752.61M178.12 770.57L186.12 771.57M177.78 765.37L186.12 771.57M176.51 775.53L186.12 771.57M178.12 788.53L182.12 789.53M174.59 782.37L182.12 789.53M172.1 792.3L182.12 789.53M178.12 806.49L180.12 807.49M174.32 798.86L180.12 807.49M169.74 808.02L180.12 807.49M178.12 824.45L176.12 826.45M186.15 823.67L176.12 826.45M178.9 816.43L176.12 826.45M178.12 842.41L175.12 844.41M185.5 843.65L175.12 844.41M179.82 835.13L175.12 844.41M178.12 860.37L174.12 861.37M184.15 864.14L174.12 861.37M181.66 854.21L174.12 861.37M178.12 878.33L176.12 875.33M176.88 885.7L176.12 875.33M185.41 880.02L176.12 875.33M178.12 896.29L172.12 897.29M181.9 900.85L172.12 897.29M180.21 890.75L172.12 897.29M178.12 914.25L169.12 915.25M178.69 919.34L169.12 915.25M177.56 909.16L169.12 915.25M178.12 932.21L168.12 932.21M177.18 937.33L168.12 932.21M177.18 927.09L168.12 932.21M178.12 950.17L168.12 948.17M176 954.97L168.12 948.17M178.01 944.92L168.12 948.17M178.12 968.13L162.12 953.13M165.23 963.06L162.12 953.13M172.23 955.58L162.12 953.13M178.12 986.09L150.12 957.09M152.73 967.16L150.12 957.09M160.1 960.04L150.12 957.09M249.93 716.69L270.93 718.69M262.4 712.73L270.93 718.69M261.43 722.93L270.93 718.69M249.93 734.65L265.93 737.65M257.97 730.95L265.93 737.65M256.08 741.02L265.93 737.65M249.93 752.61L260.93 758.61M255.43 749.78L260.93 758.61M250.53 758.77L260.93 758.61M249.93 770.57L256.93 777.57M254.15 767.55L256.93 777.57M246.9 774.79L256.93 777.57M249.93 788.53L252.93 797.53M254.92 787.32L252.93 797.53M245.2 790.56L252.93 797.53M249.93 806.49L250.93 817.49M255.21 808.01L250.93 817.49M245.01 808.94L250.93 817.49M249.93 824.45L249.93 836.45M255.05 827.4L249.93 836.45M244.8 827.4L249.93 836.45M249.93 842.41L249.93 855.41M255.05 846.36L249.93 855.41M244.8 846.36L249.93 855.41M249.93 860.37L247.93 875.37M254.2 867.07L247.93 875.37M244.05 865.72L247.93 875.37M249.93 878.33L245.93 895.33M252.98 887.69L245.93 895.33M243.01 885.35L245.93 895.33M249.93 896.29L243.93 914.29M251.65 907.32L243.93 914.29M241.93 904.08L243.93 914.29M249.93 914.25L241.93 933.25M250.16 926.89L241.93 933.25M240.72 922.92L241.93 933.25M249.93 932.21L240.93 951.21M249.43 945.22L240.93 951.21M240.17 940.84L240.93 951.21M249.93 950.17L240.93 964.17M250.13 959.33L240.93 964.17M241.51 953.79L240.93 964.17M249.93 968.13L241.93 977.13M251.77 973.77L241.93 977.13M244.11 966.96L241.93 977.13M249.93 986.09L241.93 988.09M251.95 990.86L241.93 988.09M249.46 980.93L241.93 988.09M249.93 1004.05L237.93 996.05M242.62 1005.33L237.93 996.05M248.3 996.81L237.93 996.05M249.93 1022.01L231.93 1007.01M235.6 1016.74L231.93 1007.01M242.16 1008.87L231.93 1007.01M249.93 1039.97L212.93 1013.97M217.39 1023.36L212.93 1013.97M223.28 1014.98L212.93 1013.97M249.93 1057.93L200.93 1041.93M207.94 1049.61L200.93 1041.93M211.12 1039.87L200.93 1041.93M321.72 716.69L334.72 721.69M328.12 713.66L334.72 721.69M324.44 723.22L334.72 721.69M321.72 734.65L328.72 743.65M327.21 733.36L328.72 743.65M319.13 739.65L328.72 743.65M321.72 752.61L324.72 765.61M327.68 755.64L324.72 765.61M317.7 757.94L324.72 765.61M321.72 770.57L322.72 786.57M327.27 777.22L322.72 786.57M317.05 777.86L322.72 786.57M321.72 788.53L322.72 807.53M327.36 798.22L322.72 807.53M317.14 798.76L322.72 807.53M321.72 806.49L320.72 828.49M326.25 819.68L320.72 828.49M316.02 819.22L320.72 828.49M321.72 824.45L319.72 848.45M325.58 839.85L319.72 848.45M315.37 839L319.72 848.45M321.72 842.41L319.72 868.41M325.53 859.78L319.72 868.41M315.31 858.99L319.72 868.41M321.72 860.37L318.72 887.37M324.81 878.94L318.72 887.37M314.63 877.81L318.72 887.37M321.72 878.33L318.72 906.83M324.77 898.36L318.72 906.83M314.58 897.29L318.72 906.83M321.72 896.29L318.72 926.29M324.72 917.79L318.72 926.29M314.53 916.77L318.72 926.29M321.72 914.25L318.72 945.25M324.69 936.73L318.72 945.25M314.5 935.75L318.72 945.25M321.72 932.21L318.72 964.21M324.67 955.68L318.72 964.21M314.47 954.72L318.72 964.21M321.72 950.17L319.72 982.17M325.4 973.46L319.72 982.17M315.18 972.82L319.72 982.17M321.72 968.13L320.72 999.13M326.14 990.25L320.72 999.13M315.9 989.92L320.72 999.13M321.72 986.09L321.72 1013.09M326.85 1004.04L321.72 1013.09M316.6 1004.04L321.72 1013.09M321.72 1004.05L321.72 1022.55M326.85 1013.5L321.72 1022.55M316.6 1013.5L321.72 1022.55M321.72 1022.01L321.72 1032.01M326.85 1022.96L321.72 1032.01M316.6 1022.96L321.72 1032.01M321.72 1039.97L313.72 1044.97M324.12 1044.52L313.72 1044.97M318.69 1035.83L313.72 1044.97M321.72 1057.93L274.72 1057.93M283.78 1063.05L274.72 1057.93M283.78 1052.81L274.72 1057.93M429.43 716.69L496.43 716.69M487.37 711.57L496.43 716.69M487.37 721.81L496.43 716.69M429.43 734.65L498.43 733.65M489.3 728.66L498.43 733.65M489.45 738.9L498.43 733.65M429.43 752.61L501.43 751.61M492.3 746.61L501.43 751.61M492.45 756.86L501.43 751.61M429.43 770.57L504.43 770.57M495.37 765.45L504.43 770.57M495.37 775.69L504.43 770.57M429.43 788.53L507.43 790.53M498.51 785.18L507.43 790.53M498.25 795.42L507.43 790.53M429.43 806.49L508.43 810.49M499.64 804.92L508.43 810.49M499.13 815.15L508.43 810.49M429.43 824.45L508.43 829.45M499.71 823.77L508.43 829.45M499.07 833.99L508.43 829.45M429.43 842.41L507.43 849.41M498.87 843.5L507.43 849.41M497.95 853.7L507.43 849.41M429.43 860.37L502.43 868.37M493.99 862.29L502.43 868.37M492.87 872.47L502.43 868.37M429.43 878.33L497.43 885.33M488.95 879.31L497.43 885.33M487.9 889.5L497.43 885.33M429.43 896.29L490.43 902.29M481.92 896.31L490.43 902.29M480.92 906.5L490.43 902.29M429.43 914.25L482.43 919.25M473.89 913.3L482.43 919.25M472.93 923.5L482.43 919.25M429.43 932.21L475.43 936.21M466.85 930.32L475.43 936.21M465.96 940.53L475.43 936.21M429.43 950.17L473.43 952.17M464.62 946.64L473.43 952.17M464.15 956.87L473.43 952.17M429.43 968.13L475.43 970.13M466.6 964.62L475.43 970.13M466.16 974.85L475.43 970.13M429.43 986.09L483.43 988.09M474.57 982.64L483.43 988.09M474.19 992.87L483.43 988.09M429.43 1004.05L490.43 1006.05M481.55 1000.63L490.43 1006.05M481.21 1010.87L490.43 1006.05M429.43 1022.01L481.43 1025.01M472.68 1019.38L481.43 1025.01M472.09 1029.6L481.43 1025.01M429.43 1039.97L442.43 1044.97M435.82 1036.94L442.43 1044.97M432.14 1046.5L442.43 1044.97M429.43 1057.93L397.43 1063.93M407.27 1067.3L397.43 1063.93M405.38 1057.23L397.43 1063.93M555.07 716.69L638.07 718.69M629.15 713.35L638.07 718.69M628.9 723.59L638.07 718.69M555.07 734.65L638.07 737.65M629.21 732.21L638.07 737.65M628.84 742.44L638.07 737.65M555.07 752.61L639.07 756.61M630.28 751.06L639.07 756.61M629.79 761.29L639.07 756.61M555.07 770.57L640.07 776.57M631.41 770.82L640.07 776.57M630.69 781.04L640.07 776.57M555.07 788.53L641.07 795.53M632.47 789.69L641.07 795.53M631.64 799.9L641.07 795.53M555.07 806.49L641.07 813.49M632.47 807.65L641.07 813.49M631.64 817.86L641.07 813.49M555.07 824.45L641.07 831.45M632.47 825.61L641.07 831.45M631.64 835.82L641.07 831.45M555.07 842.41L641.07 849.41M632.47 843.57L641.07 849.41M631.64 853.78L641.07 849.41M555.07 860.37L639.07 867.37M630.48 861.51L639.07 867.37M629.63 871.72L639.07 867.37M555.07 878.33L638.07 886.33M629.56 880.36L638.07 886.33M628.57 890.56L638.07 886.33M555.07 896.29L636.07 904.29M627.57 898.3L636.07 904.29M626.56 908.5L636.07 904.29M555.07 914.25L633.07 921.25M624.52 915.34L633.07 921.25M623.6 925.54L633.07 921.25M555.07 932.21L629.07 939.21M620.55 933.26L629.07 939.21M619.58 943.46L629.07 939.21M555.07 950.17L626.07 956.17M617.49 950.3L626.07 956.17M616.62 960.51L626.07 956.17M555.07 968.13L623.07 973.13M614.42 967.36L623.07 973.13M613.67 977.57L623.07 973.13M555.07 986.09L617.07 990.09M608.37 984.4L617.07 990.09M607.71 994.62L617.07 990.09M555.07 1004.05L609.07 1007.05M600.32 1001.43L609.07 1007.05M599.75 1011.66L609.07 1007.05M555.07 1022.01L594.07 1025.01M585.44 1019.21L594.07 1025.01M584.66 1029.42L594.07 1025.01M555.07 1039.97L569.07 1041.97M560.84 1035.62L569.07 1041.97M559.39 1045.76L569.07 1041.97M555.07 1057.93L533.07 1059.93M542.55 1064.21L533.07 1059.93M541.63 1054.01L533.07 1059.93M662.77 716.69L705.77 720.69M697.24 714.75L705.77 720.69M696.29 724.95L705.77 720.69M662.77 734.65L710.77 743.65M702.82 736.95L710.77 743.65M700.93 747.02L710.77 743.65M662.77 752.61L716.77 766.61M709.3 759.38L716.77 766.61M706.73 769.3L716.77 766.61M662.77 770.57L722.77 786.57M715.35 779.29L722.77 786.57M712.71 789.19L722.77 786.57M662.77 788.53L726.77 804.53M719.24 797.37L726.77 804.53M716.75 807.3L726.77 804.53M662.77 806.49L728.77 823.49M721.29 816.27L728.77 823.49M718.73 826.19L728.77 823.49M662.77 824.45L729.77 840.45M722.16 833.37L729.77 840.45M719.78 843.33L729.77 840.45M662.77 842.41L730.77 858.41M723.14 851.35L730.77 858.41M720.79 861.32L730.77 858.41M662.77 860.37L730.77 874.37M722.94 867.53L730.77 874.37M720.88 877.56L730.77 874.37M662.77 878.33L729.77 891.33M721.86 884.58L729.77 891.33M719.91 894.63L729.77 891.33M662.77 896.29L728.77 908.29M720.79 901.63L728.77 908.29M718.95 911.71L728.77 908.29M662.77 914.25L726.77 925.25M718.72 918.67L726.77 925.25M716.99 928.76L726.77 925.25M662.77 932.21L724.77 942.21M716.65 935.71L724.77 942.21M715.02 945.82L724.77 942.21M662.77 950.17L721.77 958.17M713.49 951.88L721.77 958.17M712.12 962.03L721.77 958.17M662.77 968.13L716.77 974.13M708.34 968.04L716.77 974.13M707.21 978.22L716.77 974.13M662.77 986.09L710.77 992.09M702.43 985.89L710.77 992.09M701.16 996.05L710.77 992.09M662.77 1004.05L701.77 1010.05M693.61 1003.61L701.77 1010.05M692.05 1013.74L701.77 1010.05M662.77 1022.01L687.77 1026.01M679.65 1019.52L687.77 1026.01M678.03 1029.64L687.77 1026.01M662.77 1039.97L665.77 1043.97M664.44 1033.66L665.77 1043.97M656.25 1039.8L665.77 1043.97M662.77 1057.93L636.77 1059.93M646.19 1064.34L636.77 1059.93M645.41 1054.13L636.77 1059.93M770.47 716.69L759.47 718.69M769.3 722.11L759.47 718.69M767.46 712.03L759.47 718.69M770.47 734.65L774.47 742.65M775.01 732.26L774.47 742.65M765.85 736.84L774.47 742.65M770.47 752.61L790.47 760.61M783.97 752.49L790.47 760.61M780.17 762L790.47 760.61M770.47 770.57L804.47 780.57M797.24 773.1L804.47 780.57M794.35 782.93L804.47 780.57M770.47 788.53L815.47 801.53M808.2 794.1L815.47 801.53M805.36 803.94L815.47 801.53M770.47 806.49L821.47 820.49M814.1 813.16L821.47 820.49M811.39 823.03L821.47 820.49M770.47 824.45L824.47 839.45M817.12 832.09L824.47 839.45M814.38 841.96L824.47 839.45M770.47 842.41L826.47 858.41M819.18 851L826.47 858.41M816.36 860.85L826.47 858.41M770.47 860.37L826.47 876.37M819.18 868.96L826.47 876.37M816.36 878.81L826.47 876.37M770.47 878.33L826.47 893.33M819.06 886.04L826.47 893.33M816.41 895.93L826.47 893.33M770.47 896.29L825.47 911.29M818.09 903.97L825.47 911.29M815.39 913.85L825.47 911.29M770.47 914.25L823.47 929.25M816.16 921.86L823.47 929.25M813.37 931.71L823.47 929.25M770.47 932.21L820.47 946.21M813.14 938.84L820.47 946.21M810.38 948.7L820.47 946.21M770.47 950.17L817.47 964.17M810.26 956.68L817.47 964.17M807.34 966.49L817.47 964.17M770.47 968.13L812.47 981.13M805.34 973.56L812.47 981.13M802.31 983.35L812.47 981.13M770.47 986.09L807.47 998.09M800.44 990.43L807.47 998.09M797.28 1000.17L807.47 998.09M770.47 1004.05L799.47 1015.05M792.83 1007.05L799.47 1015.05M789.2 1016.63L799.47 1015.05M770.47 1022.01L788.47 1031.01M782.67 1022.38L788.47 1031.01M778.09 1031.54L788.47 1031.01M770.47 1039.97L770.47 1046.97M775.6 1037.92L770.47 1046.97M765.35 1037.92L770.47 1046.97M770.47 1057.93L745.47 1063.93M755.47 1066.8L745.47 1063.93M753.08 1056.84L745.47 1063.93M860.22 716.69L835.22 713.69M843.6 719.85L835.22 713.69M844.82 709.68L835.22 713.69M860.22 734.65L844.22 729.65M851.34 737.24L844.22 729.65M854.39 727.46L844.22 729.65M860.22 752.61L857.22 747.61M857.49 758.01L857.22 747.61M866.27 752.74L857.22 747.61M860.22 770.57L867.22 768.57M857.11 766.13L867.22 768.57M859.93 775.98L867.22 768.57M860.22 788.53L879.22 786.53M869.69 782.38L879.22 786.53M870.76 792.57L879.22 786.53M860.22 806.49L887.22 807.49M878.37 802.04L887.22 807.49M877.99 812.27L887.22 807.49M860.22 824.45L893.22 827.45M884.67 821.53L893.22 827.45M883.75 831.73L893.22 827.45M860.22 842.41L897.22 847.41M888.94 841.12L897.22 847.41M887.57 851.27L897.22 847.41M860.22 860.37L900.22 867.37M892.19 860.77L900.22 867.37M890.43 870.85L900.22 867.37M860.22 878.33L902.22 885.33M894.14 878.79L902.22 885.33M892.45 888.89L902.22 885.33M860.22 896.29L902.22 904.29M894.29 897.57L902.22 904.29M892.37 907.63L902.22 904.29M860.22 914.25L900.22 923.25M892.52 916.27L900.22 923.25M890.27 926.26L900.22 923.25M860.22 932.21L897.22 941.21M889.64 934.09L897.22 941.21M887.22 944.05L897.22 941.21M860.22 950.17L894.22 959.17M886.79 951.9L894.22 959.17M884.16 961.8L894.22 959.17M860.22 968.13L889.22 977.13M882.1 969.56L889.22 977.13M879.06 979.34L889.22 977.13M860.22 986.09L882.22 996.09M876.1 987.68L882.22 996.09M871.87 997.01L882.22 996.09M860.22 1004.05L875.22 1015.05M870.95 1005.57L875.22 1015.05M864.9 1013.83L875.22 1015.05M860.22 1022.01L864.22 1034.01M866.22 1023.8L864.22 1034.01M856.5 1027.04L864.22 1034.01M860.22 1039.97L852.22 1054.97M861 1049.39L852.22 1054.97M851.97 1044.57L852.22 1054.97M914.07 716.69L899.07 708.69M904.65 717.47L899.07 708.69M909.47 708.43L899.07 708.69M914.07 734.65L903.07 716.65M903.43 727.04L903.07 716.65M912.16 721.7L903.07 716.65M914.07 752.61L907.07 730.61M904.94 740.79L907.07 730.61M914.7 737.68L907.07 730.61M914.07 770.57L909.07 747.57M905.99 757.5L909.07 747.57M916 755.33L909.07 747.57M914.07 788.53L915.07 766.53M909.55 775.34L915.07 766.53M919.78 775.8L915.07 766.53M914.07 806.49L924.07 786.49M915.45 792.3L924.07 786.49M924.61 796.88L924.07 786.49M914.07 824.45L930.07 805.45M920.33 809.07L930.07 805.45M928.16 815.67L930.07 805.45M914.07 842.41L934.07 826.41M923.81 828.07L934.07 826.41M930.21 836.06L934.07 826.41M914.07 860.37L937.07 847.37M926.68 847.37L937.07 847.37M931.71 856.28L937.07 847.37M914.07 878.33L942.07 868.33M931.83 866.55L942.07 868.33M935.27 876.2L942.07 868.33M914.07 896.29L942.07 889.29M932.05 886.52L942.07 889.29M934.54 896.45L942.07 889.29M914.07 914.25L943.07 908.25M933.17 905.07L943.07 908.25M935.25 915.1L943.07 908.25M914.07 932.21L939.07 929.21M929.48 925.2L939.07 929.21M930.7 935.37L939.07 929.21M914.07 950.17L935.07 948.17M925.58 943.93L935.07 948.17M926.55 954.13L935.07 948.17M914.07 968.13L929.07 967.13M919.7 962.62L929.07 967.13M920.38 972.84L929.07 967.13M914.07 986.09L920.07 989.09M914.27 980.46L920.07 989.09M909.69 989.62L920.07 989.09" fill="none" stroke="#000" stroke-width="1.7" stroke-linecap="round" stroke-linejoin="round"/>
<path d="M124.9 774.59L135.16 782.5L146.88 791.29L158.6 800.08L168.85 809.75L174.71 822.06L176.77 836.71L176.77 851.36L177.64 866.01L178.52 880.66L180.57 892.38L186.43 904.1L193.76 915.23L202.55 924.61L212.8 933.4L223.06 940.72L233.31 948.05L243.57 953.91L252.36 959.18L264.08 965.63L275.8 970.9L287.52 975.88L302.17 979.69L316.82 980.86L331.47 979.69L343.19 975.88L353.44 967.97L360.77 956.84L363.7 942.19L363.7 927.54L363.11 912.89L362.23 898.24L362.23 880.66L363.11 863.08L363.7 845.5L364.58 827.92L365.16 810.34L365.46 792.76L366.04 775.18L366.63 757.6L367.21 740.02L368.09 725.37" fill="none" stroke="#000" stroke-width="3.3" stroke-linecap="round" stroke-dasharray="3.2 10.24"/>
<path d="M106.5 1076.4L106.5 703.2L986.5 703.2L986.5 940.4L852 1076.4M94.5 1076.4L987.25 1076.4M106.5 943.9L240 1076.4M106.5 1076.4v11.5M150.5 1076.4v8.5M194.5 1076.4v8.5M238.5 1076.4v8.5M282.5 1076.4v8.5M326.5 1076.4v11.5M370.5 1076.4v8.5M414.5 1076.4v8.5M458.5 1076.4v8.5M502.5 1076.4v8.5M546.5 1076.4v11.5M590.5 1076.4v8.5M634.5 1076.4v8.5M678.5 1076.4v8.5M722.5 1076.4v8.5M766.5 1076.4v11.5M810.5 1076.4v8.5M854.5 1076.4v8.5M898.5 1076.4v8.5M942.5 1076.4v8.5M986.5 1076.4v11.5M106.5 1076.4h-12M106.5 1054.4h-9M106.5 1032.4h-9M106.5 1010.4h-9M106.5 988.4h-12M106.5 966.4h-9M106.5 944.4h-9M106.5 922.4h-9M106.5 900.4h-12M106.5 878.4h-9M106.5 856.4h-9M106.5 834.4h-9M106.5 812.4h-12M106.5 790.4h-9M106.5 768.4h-9M106.5 746.4h-9M106.5 724.4h-12" fill="none" stroke="#000" stroke-width="1.6" stroke-linecap="butt" stroke-linejoin="miter"/>
<text x="106" y="1115.6" text-anchor="middle" font-size="26">0.00</text>
<text x="326" y="1115.6" text-anchor="middle" font-size="26">0.25</text>
<text x="546" y="1115.6" text-anchor="middle" font-size="26">0.50</text>
<text x="766" y="1115.6" text-anchor="middle" font-size="26">0.75</text>
<text x="986" y="1115.6" text-anchor="middle" font-size="26">1.00</text>
<text transform="translate(80 1076.4) rotate(-90)" text-anchor="middle" font-size="25.5">0.0</text>
<text transform="translate(80 988.4) rotate(-90)" text-anchor="middle" font-size="25.5">0.1</text>
<text transform="translate(80 900.4) rotate(-90)" text-anchor="middle" font-size="25.5">0.2</text>
<text transform="translate(80 812.4) rotate(-90)" text-anchor="middle" font-size="25.5">0.3</text>
<text transform="translate(80 724.4) rotate(-90)" text-anchor="middle" font-size="25.5">0.4</text>
<text transform="translate(42.7 898) rotate(-90)" font-size="28"><tspan x="0" font-style="italic">z</tspan><tspan x="13.8" font-size="39" dy="2">/</tspan><tspan x="27.4" dy="-2" font-style="italic">W</tspan><tspan x="62.4">(-)</tspan></text>
<text y="1143" font-size="28"><tspan x="509.5" font-style="italic">y</tspan><tspan x="527" font-size="46" dy="4">/</tspan><tspan x="541" dy="-4" font-style="italic">W</tspan><tspan x="578.4">(-)</tspan></text>
<text x="27" y="693.2" font-size="37">(b)</text>
<g shape-rendering="crispEdges"><path fill="#D9F2F7" d="M115.3 1216.2h54.15v9.28h-54.15zM187.1 1216.2h72.1v9.28h-72.1zM402.5 1216.2h161.85v9.28h-161.85zM941 1216.2h18.25v18.26h-18.25zM115.3 1225.18h143.9v9.28h-143.9zM420.45 1225.18h125.95v9.28h-125.95zM115.3 1234.16h108v9.28h-108zM420.45 1234.16h54.15v9.28h-54.15zM510.2 1234.16h36.2v9.28h-36.2zM941 1234.16h36.2v9.28h-36.2zM941 1314.98h36.2v45.2h-36.2zM941 1377.84h36.2v27.24h-36.2zM115.3 1243.14h18.25v9.28h-18.25zM115.3 1297.02h18.25v81.12h-18.25zM115.3 1431.72h18.25v9.28h-18.25zM169.15 1243.14h36.2v18.26h-36.2zM169.15 1485.6h36.2v9.28h-36.2zM438.4 1243.14h36.2v18.26h-36.2zM528.15 1243.14h18.25v36.22h-18.25zM958.95 1243.14h18.25v72.14h-18.25zM958.95 1359.88h18.25v18.26h-18.25zM438.4 1261.1h18.25v9.28h-18.25zM420.45 1270.08h36.2v45.2h-36.2zM528.15 1279.06h36.2v9.28h-36.2zM546.1 1288.04h72.1v9.28h-72.1zM546.1 1297.02h90.05v18.26h-90.05zM528.15 1314.98h125.95v9.28h-125.95zM510.2 1323.96h161.85v9.28h-161.85zM223 1332.94h54.15v45.2h-54.15zM492.25 1332.94h197.75v9.28h-197.75zM492.25 1341.92h215.7v9.28h-215.7zM474.3 1350.9h269.55v9.28h-269.55zM474.3 1359.88h323.4v9.28h-323.4zM456.35 1368.86h359.3v9.28h-359.3zM115.3 1377.84h36.2v54.18h-36.2zM115.3 1440.7h36.2v9.28h-36.2zM223 1377.84h36.2v27.24h-36.2zM438.4 1377.84h377.25v9.28h-377.25zM438.4 1386.82h395.2v18.26h-395.2zM438.4 1404.78h413.15v36.22h-413.15zM923.05 1404.78h54.15v18.26h-54.15zM905.1 1422.74h72.1v18.26h-72.1zM438.4 1440.7h431.1v9.28h-431.1zM887.15 1440.7h90.05v9.28h-90.05zM133.25 1449.68h18.25v18.26h-18.25zM420.45 1449.68h538.8v9.28h-538.8zM420.45 1458.66h18.25v18.26h-18.25zM456.35 1458.66h215.7v9.28h-215.7zM725.6 1458.66h233.65v9.28h-233.65zM151.2 1467.64h18.25v9.28h-18.25zM456.35 1467.64h161.85v9.28h-161.85zM761.5 1467.64h179.8v9.28h-179.8zM151.2 1476.62h36.2v9.28h-36.2zM402.5 1476.62h18.25v9.28h-18.25zM474.3 1476.62h90.05v9.28h-90.05zM779.45 1476.62h161.85v9.28h-161.85zM258.9 1485.6h54.15v9.28h-54.15zM384.55 1485.6h36.2v9.28h-36.2zM492.25 1485.6h54.15v9.28h-54.15zM797.4 1485.6h125.95v9.28h-125.95zM205.05 1494.58h108v9.28h-108zM366.6 1494.58h36.2v9.28h-36.2zM510.2 1494.58h18.25v9.28h-18.25zM815.35 1494.58h90.05v18.26h-90.05zM240.95 1503.56h90.05v9.28h-90.05zM348.65 1503.56h54.15v9.28h-54.15zM294.8 1512.54h90.05v9.28h-90.05zM851.25 1512.54h36.2v9.28h-36.2zM294.8 1521.52h72.1v9.28h-72.1zM869.2 1521.52h18.25v9.28h-18.25zM294.8 1530.5h36.2v9.28h-36.2zM851.25 1539.48h18.25v18.26h-18.25zM833.3 1557.44h18.25v9.28h-18.25z"/>
<path fill="#F2FAD2" d="M169.15 1216.2h18.25v9.28h-18.25zM958.95 1216.2h18.25v18.26h-18.25zM438.4 1458.66h18.25v18.26h-18.25zM671.75 1458.66h54.15v9.28h-54.15zM617.9 1467.64h143.9v9.28h-143.9zM420.45 1476.62h54.15v9.28h-54.15zM564.05 1476.62h215.7v9.28h-215.7zM420.45 1485.6h72.1v9.28h-72.1zM546.1 1485.6h251.6v9.28h-251.6zM169.15 1494.58h36.2v9.28h-36.2zM402.5 1494.58h36.2v9.28h-36.2zM474.3 1494.58h36.2v9.28h-36.2zM528.15 1494.58h287.5v9.28h-287.5zM187.1 1503.56h54.15v9.28h-54.15zM402.5 1503.56h18.25v9.28h-18.25zM492.25 1503.56h72.1v9.28h-72.1zM743.55 1503.56h72.1v9.28h-72.1zM187.1 1512.54h36.2v9.28h-36.2zM258.9 1512.54h36.2v9.28h-36.2zM384.55 1512.54h18.25v9.28h-18.25zM779.45 1512.54h72.1v9.28h-72.1zM205.05 1521.52h18.25v9.28h-18.25zM276.85 1521.52h18.25v9.28h-18.25zM366.6 1521.52h18.25v9.28h-18.25zM797.4 1521.52h72.1v9.28h-72.1zM330.7 1530.5h36.2v9.28h-36.2zM833.3 1530.5h36.2v9.28h-36.2zM833.3 1539.48h18.25v18.26h-18.25zM797.4 1557.44h36.2v9.28h-36.2z"/>
<path fill="#ACE1EE" d="M258.9 1216.2h143.9v9.28h-143.9zM564.05 1216.2h161.85v9.28h-161.85zM923.05 1216.2h18.25v27.24h-18.25zM258.9 1225.18h108v9.28h-108zM384.55 1225.18h36.2v9.28h-36.2zM546.1 1225.18h143.9v18.26h-143.9zM223 1234.16h125.95v9.28h-125.95zM402.5 1234.16h18.25v9.28h-18.25zM402.5 1270.08h18.25v45.2h-18.25zM402.5 1467.64h18.25v9.28h-18.25zM474.3 1234.16h36.2v9.28h-36.2zM133.25 1243.14h36.2v9.28h-36.2zM133.25 1431.72h36.2v9.28h-36.2zM205.05 1243.14h143.9v18.26h-143.9zM402.5 1243.14h36.2v27.24h-36.2zM474.3 1243.14h54.15v18.26h-54.15zM546.1 1243.14h125.95v27.24h-125.95zM923.05 1243.14h36.2v45.2h-36.2zM115.3 1252.12h54.15v9.28h-54.15zM115.3 1261.1h233.65v36.22h-233.65zM456.35 1261.1h72.1v27.24h-72.1zM689.7 1261.1h18.25v9.28h-18.25zM546.1 1270.08h161.85v9.28h-161.85zM564.05 1279.06h143.9v9.28h-143.9zM456.35 1288.04h90.05v27.24h-90.05zM617.9 1288.04h90.05v9.28h-90.05zM887.15 1288.04h72.1v9.28h-72.1zM133.25 1297.02h215.7v27.24h-215.7zM635.85 1297.02h72.1v18.26h-72.1zM833.3 1297.02h125.95v9.28h-125.95zM815.35 1306h143.9v9.28h-143.9zM815.35 1368.86h143.9v9.28h-143.9zM402.5 1314.98h125.95v9.28h-125.95zM653.8 1314.98h72.1v9.28h-72.1zM815.35 1314.98h125.95v18.26h-125.95zM815.35 1377.84h125.95v9.28h-125.95zM133.25 1323.96h197.75v9.28h-197.75zM420.45 1323.96h90.05v9.28h-90.05zM671.75 1323.96h54.15v9.28h-54.15zM133.25 1332.94h90.05v45.2h-90.05zM276.85 1332.94h54.15v45.2h-54.15zM420.45 1332.94h72.1v18.26h-72.1zM689.7 1332.94h251.6v9.28h-251.6zM707.65 1341.92h233.65v9.28h-233.65zM420.45 1350.9h54.15v18.26h-54.15zM743.55 1350.9h197.75v9.28h-197.75zM797.4 1359.88h161.85v9.28h-161.85zM420.45 1368.86h36.2v9.28h-36.2zM151.2 1377.84h72.1v27.24h-72.1zM258.9 1377.84h72.1v27.24h-72.1zM420.45 1377.84h18.25v72.14h-18.25zM833.3 1386.82h108v18.26h-108zM151.2 1404.78h179.8v27.24h-179.8zM851.25 1404.78h72.1v18.26h-72.1zM851.25 1422.74h54.15v18.26h-54.15zM205.05 1431.72h125.95v9.28h-125.95zM240.95 1440.7h108v27.24h-108zM869.2 1440.7h18.25v9.28h-18.25zM869.2 1530.5h18.25v9.28h-18.25zM151.2 1458.66h36.2v9.28h-36.2zM169.15 1467.64h18.25v9.28h-18.25zM240.95 1467.64h125.95v9.28h-125.95zM187.1 1476.62h215.7v9.28h-215.7zM205.05 1485.6h54.15v9.28h-54.15zM312.75 1485.6h72.1v9.28h-72.1zM312.75 1494.58h54.15v9.28h-54.15zM905.1 1494.58h18.25v9.28h-18.25zM330.7 1503.56h18.25v9.28h-18.25zM887.15 1512.54h18.25v9.28h-18.25z"/>
<path fill="#80CBE3" d="M725.6 1216.2h197.75v9.28h-197.75zM689.7 1225.18h125.95v9.28h-125.95zM887.15 1225.18h36.2v45.2h-36.2zM348.65 1234.16h18.25v90.1h-18.25zM348.65 1440.7h18.25v27.24h-18.25zM384.55 1234.16h18.25v18.26h-18.25zM689.7 1234.16h54.15v9.28h-54.15zM671.75 1243.14h54.15v18.26h-54.15zM671.75 1261.1h18.25v9.28h-18.25zM707.65 1261.1h18.25v18.26h-18.25zM815.35 1270.08h108v18.26h-108zM707.65 1279.06h36.2v18.26h-36.2zM779.45 1288.04h108v9.28h-108zM707.65 1297.02h125.95v9.28h-125.95zM707.65 1306h108v9.28h-108zM725.6 1314.98h90.05v18.26h-90.05zM330.7 1323.96h18.25v90.1h-18.25zM402.5 1323.96h18.25v63.16h-18.25zM402.5 1449.68h18.25v18.26h-18.25zM330.7 1413.76h36.2v27.24h-36.2zM169.15 1431.72h36.2v9.28h-36.2zM151.2 1440.7h90.05v18.26h-90.05zM187.1 1458.66h54.15v18.26h-54.15zM366.6 1467.64h36.2v9.28h-36.2z"/>
<path fill="#4FAFD4" d="M366.6 1225.18h18.25v27.24h-18.25zM366.6 1413.76h18.25v45.2h-18.25zM815.35 1225.18h72.1v9.28h-72.1zM743.55 1234.16h143.9v9.28h-143.9zM725.6 1243.14h161.85v27.24h-161.85zM384.55 1252.12h18.25v90.1h-18.25zM725.6 1270.08h90.05v9.28h-90.05zM743.55 1279.06h72.1v9.28h-72.1zM743.55 1288.04h36.2v9.28h-36.2zM348.65 1323.96h18.25v90.1h-18.25zM402.5 1386.82h18.25v63.16h-18.25zM366.6 1458.66h36.2v9.28h-36.2z"/>
<path fill="#2A87BF" d="M366.6 1252.12h18.25v81.12h-18.25zM384.55 1341.92h18.25v18.26h-18.25zM384.55 1413.76h18.25v45.2h-18.25zM366.6 1359.88h36.2v54.18h-36.2z"/>
<path fill="#2460AE" d="M366.6 1332.94h18.25v27.24h-18.25z"/>
<path fill="#FEF0A5" d="M438.4 1494.58h36.2v9.28h-36.2zM420.45 1503.56h36.2v9.28h-36.2zM474.3 1503.56h18.25v9.28h-18.25zM564.05 1503.56h179.8v9.28h-179.8zM223 1512.54h36.2v9.28h-36.2zM402.5 1512.54h18.25v9.28h-18.25zM492.25 1512.54h287.5v9.28h-287.5zM223 1521.52h54.15v9.28h-54.15zM384.55 1521.52h18.25v9.28h-18.25zM743.55 1521.52h54.15v9.28h-54.15zM743.55 1557.44h54.15v9.28h-54.15zM205.05 1530.5h18.25v9.28h-18.25zM276.85 1530.5h18.25v9.28h-18.25zM366.6 1530.5h18.25v9.28h-18.25zM779.45 1530.5h54.15v9.28h-54.15zM294.8 1539.48h18.25v9.28h-18.25zM815.35 1539.48h18.25v18.26h-18.25z"/>
<path fill="#FEDF8B" d="M456.35 1503.56h18.25v9.28h-18.25zM420.45 1512.54h36.2v9.28h-36.2zM474.3 1512.54h18.25v9.28h-18.25zM402.5 1521.52h18.25v9.28h-18.25zM492.25 1521.52h251.6v9.28h-251.6zM492.25 1557.44h251.6v9.28h-251.6zM223 1530.5h54.15v9.28h-54.15zM707.65 1530.5h72.1v9.28h-72.1zM223 1539.48h18.25v18.26h-18.25zM276.85 1539.48h18.25v9.28h-18.25zM312.75 1539.48h36.2v9.28h-36.2zM761.5 1539.48h54.15v9.28h-54.15zM779.45 1548.46h36.2v9.28h-36.2zM240.95 1557.44h108v9.28h-108z"/>
<path fill="#FDBB6C" d="M456.35 1512.54h18.25v9.28h-18.25zM420.45 1521.52h18.25v9.28h-18.25zM474.3 1521.52h18.25v9.28h-18.25zM384.55 1530.5h18.25v9.28h-18.25zM492.25 1530.5h215.7v9.28h-215.7zM240.95 1539.48h36.2v9.28h-36.2zM348.65 1539.48h18.25v9.28h-18.25zM348.65 1557.44h18.25v9.28h-18.25zM564.05 1539.48h197.75v9.28h-197.75zM240.95 1548.46h18.25v9.28h-18.25zM725.6 1548.46h54.15v9.28h-54.15zM456.35 1557.44h36.2v9.28h-36.2z"/>
<path fill="#FC9552" d="M438.4 1521.52h36.2v9.28h-36.2zM402.5 1530.5h18.25v9.28h-18.25zM474.3 1530.5h18.25v9.28h-18.25zM366.6 1539.48h18.25v9.28h-18.25zM492.25 1539.48h72.1v9.28h-72.1zM258.9 1548.46h90.05v9.28h-90.05zM510.2 1548.46h215.7v9.28h-215.7zM366.6 1557.44h90.05v9.28h-90.05z"/>
<path fill="#FC6B3E" d="M420.45 1530.5h54.15v9.28h-54.15zM384.55 1539.48h18.25v9.28h-18.25zM456.35 1539.48h36.2v9.28h-36.2zM348.65 1548.46h18.25v9.28h-18.25zM474.3 1548.46h36.2v9.28h-36.2z"/>
<path fill="#FB3F2C" d="M402.5 1539.48h54.15v9.28h-54.15zM366.6 1548.46h36.2v9.28h-36.2zM438.4 1548.46h36.2v9.28h-36.2z"/>
<path fill="#E01A22" d="M402.5 1548.46h36.2v9.28h-36.2z"/></g>
<path d="M178.12 1220.69L201.12 1220.69M192.07 1215.57L201.12 1220.69M192.07 1225.81L201.12 1220.69M178.12 1238.65L197.12 1238.65M188.07 1233.53L197.12 1238.65M188.07 1243.77L197.12 1238.65M178.12 1256.61L192.12 1256.61M183.07 1251.49L192.12 1256.61M183.07 1261.73L192.12 1256.61M178.12 1274.57L188.12 1275.57M179.63 1269.57L188.12 1275.57M178.61 1279.77L188.12 1275.57M178.12 1292.53L184.12 1293.53M176.04 1286.99L184.12 1293.53M174.35 1297.09L184.12 1293.53M178.12 1310.49L180.12 1311.49M174.32 1302.86L180.12 1311.49M169.74 1312.02L180.12 1311.49M178.12 1328.45L180.12 1330.45M177.35 1320.43L180.12 1330.45M170.1 1327.67L180.12 1330.45M178.12 1346.41L175.12 1348.41M185.5 1347.65L175.12 1348.41M179.82 1339.13L175.12 1348.41M178.12 1364.37L174.12 1366.37M184.51 1366.9L174.12 1366.37M179.93 1357.74L174.12 1366.37M178.12 1382.33L173.12 1383.33M183.01 1386.58L173.12 1383.33M181 1376.53L173.12 1383.33M178.12 1400.29L171.12 1402.29M181.24 1404.73L171.12 1402.29M178.42 1394.88L171.12 1402.29M178.12 1418.25L169.12 1420.25M179.07 1423.29L169.12 1420.25M176.85 1413.29L169.12 1420.25M178.12 1436.21L167.12 1436.21M176.18 1441.33L167.12 1436.21M176.18 1431.09L167.12 1436.21M178.12 1454.17L164.12 1448.17M170.43 1456.44L164.12 1448.17M174.46 1447.03L164.12 1448.17M178.12 1472.13L160.12 1453.13M162.63 1463.22L160.12 1453.13M170.07 1456.18L160.12 1453.13M178.12 1490.09L149.12 1457.09M151.25 1467.27L149.12 1457.09M158.95 1460.51L149.12 1457.09M249.93 1220.69L275.93 1222.69M267.29 1216.89L275.93 1222.69M266.51 1227.1L275.93 1222.69M249.93 1238.65L268.93 1241.65M260.78 1235.18L268.93 1241.65M259.19 1245.3L268.93 1241.65M249.93 1256.61L262.93 1261.61M256.32 1253.58L262.93 1261.61M252.64 1263.14L262.93 1261.61M249.93 1274.57L256.93 1280.57M253.39 1270.79L256.93 1280.57M246.72 1278.57L256.93 1280.57M249.93 1292.53L252.93 1300.53M254.54 1290.26L252.93 1300.53M244.95 1293.85L252.93 1300.53M249.93 1310.49L249.93 1319.49M255.05 1310.44L249.93 1319.49M244.8 1310.44L249.93 1319.49M249.93 1328.45L246.93 1339.45M254.25 1332.06L246.93 1339.45M244.37 1329.37L246.93 1339.45M249.93 1346.41L245.93 1359.41M253.48 1352.26L245.93 1359.41M243.69 1349.25L245.93 1359.41M249.93 1364.37L243.93 1380.37M251.9 1373.69L243.93 1380.37M242.31 1370.1L243.93 1380.37M249.93 1382.33L241.93 1399.33M250.41 1393.32L241.93 1399.33M241.15 1388.96L241.93 1399.33M249.93 1400.29L239.93 1419.29M248.67 1413.67L239.93 1419.29M239.61 1408.89L239.93 1419.29M249.93 1418.25L238.93 1438.25M247.77 1432.79L238.93 1438.25M238.8 1427.85L238.93 1438.25M249.93 1436.21L238.93 1455.21M247.89 1449.94L238.93 1455.21M239.03 1444.81L238.93 1455.21M249.93 1454.17L238.93 1468.17M248.54 1464.22L238.93 1468.17M240.49 1457.89L238.93 1468.17M249.93 1472.13L239.93 1480.13M250.19 1478.47L239.93 1480.13M243.79 1470.48L239.93 1480.13M249.93 1490.09L239.93 1492.09M249.81 1495.34L239.93 1492.09M247.8 1485.29L239.93 1492.09M249.93 1508.05L237.93 1499.05M242.09 1508.58L237.93 1499.05M248.24 1500.38L237.93 1499.05M249.93 1526.01L228.93 1509.01M232.74 1518.69L228.93 1509.01M239.18 1510.72L228.93 1509.01M249.93 1543.97L208.93 1515.97M213.51 1525.3L208.93 1515.97M219.29 1516.85L208.93 1515.97M249.93 1561.93L194.93 1544.93M202.06 1552.5L194.93 1544.93M205.09 1542.71L194.93 1544.93M321.72 1220.69L339.72 1225.69M332.37 1218.33L339.72 1225.69M329.63 1228.2L339.72 1225.69M321.72 1238.65L331.72 1246.65M327.86 1237L331.72 1246.65M321.46 1244.99L331.72 1246.65M321.72 1256.61L326.72 1267.61M327.64 1257.25L326.72 1267.61M318.32 1261.49L326.72 1267.61M321.72 1274.57L323.72 1290.57M327.68 1280.95L323.72 1290.57M317.52 1282.22L323.72 1290.57M321.72 1292.53L322.72 1311.53M327.36 1302.22L322.72 1311.53M317.14 1302.76L322.72 1311.53M321.72 1310.49L320.72 1332.49M326.25 1323.68L320.72 1332.49M316.02 1323.22L320.72 1332.49M321.72 1328.45L319.72 1352.45M325.58 1343.85L319.72 1352.45M315.37 1343L319.72 1352.45M321.72 1346.41L319.72 1372.41M325.53 1363.78L319.72 1372.41M315.31 1362.99L319.72 1372.41M321.72 1364.37L318.72 1391.37M324.81 1382.94L318.72 1391.37M314.63 1381.81L318.72 1391.37M321.72 1382.33L318.72 1410.83M324.77 1402.36L318.72 1410.83M314.58 1401.29L318.72 1410.83M321.72 1400.29L318.72 1430.29M324.72 1421.79L318.72 1430.29M314.53 1420.77L318.72 1430.29M321.72 1418.25L318.72 1449.25M324.69 1440.73L318.72 1449.25M314.5 1439.75L318.72 1449.25M321.72 1436.21L318.72 1468.21M324.67 1459.68L318.72 1468.21M314.47 1458.72L318.72 1468.21M321.72 1454.17L319.72 1486.17M325.4 1477.46L319.72 1486.17M315.18 1476.82L319.72 1486.17M321.72 1472.13L320.72 1503.13M326.14 1494.25L320.72 1503.13M315.9 1493.92L320.72 1503.13M321.72 1490.09L321.72 1517.09M326.85 1508.04L321.72 1517.09M316.6 1508.04L321.72 1517.09M321.72 1508.05L321.72 1526.55M326.85 1517.5L321.72 1526.55M316.6 1517.5L321.72 1526.55M321.72 1526.01L321.72 1534.01M326.85 1524.96L321.72 1534.01M316.6 1524.96L321.72 1534.01M321.72 1543.97L311.72 1547.97M322.03 1549.36L311.72 1547.97M318.23 1539.85L311.72 1547.97M321.72 1561.93L269.72 1561.93M278.78 1567.05L269.72 1561.93M278.78 1556.81L269.72 1561.93M429.43 1220.69L484.43 1220.69M475.37 1215.57L484.43 1220.69M475.37 1225.81L484.43 1220.69M429.43 1238.65L486.43 1238.65M477.37 1233.53L486.43 1238.65M477.37 1243.77L486.43 1238.65M429.43 1256.61L489.43 1256.61M480.37 1251.49L489.43 1256.61M480.37 1261.73L489.43 1256.61M429.43 1274.57L493.43 1274.57M484.37 1269.45L493.43 1274.57M484.37 1279.69L493.43 1274.57M429.43 1292.53L496.43 1293.53M487.45 1288.27L496.43 1293.53M487.3 1298.52L496.43 1293.53M429.43 1310.49L498.43 1313.49M489.6 1307.98L498.43 1313.49M489.16 1318.21L498.43 1313.49M429.43 1328.45L498.43 1333.45M489.77 1327.69L498.43 1333.45M489.03 1337.9L498.43 1333.45M429.43 1346.41L496.43 1352.41M487.87 1346.5L496.43 1352.41M486.95 1356.7L496.43 1352.41M429.43 1364.37L493.43 1371.37M484.98 1365.29L493.43 1371.37M483.87 1375.48L493.43 1371.37M429.43 1382.33L487.43 1389.33M479.05 1383.16L487.43 1389.33M477.82 1393.33L487.43 1389.33M429.43 1400.29L481.43 1406.29M473.02 1400.17L481.43 1406.29M471.85 1410.34L481.43 1406.29M429.43 1418.25L474.43 1422.25M465.86 1416.35L474.43 1422.25M464.96 1426.55L474.43 1422.25M429.43 1436.21L469.43 1438.21M460.64 1432.64L469.43 1438.21M460.13 1442.87L469.43 1438.21M429.43 1454.17L469.43 1454.17M460.37 1449.05L469.43 1454.17M460.37 1459.29L469.43 1454.17M429.43 1472.13L471.43 1472.13M462.37 1467.01L471.43 1472.13M462.37 1477.25L471.43 1472.13M429.43 1490.09L477.43 1490.09M468.37 1484.97L477.43 1490.09M468.37 1495.21L477.43 1490.09M429.43 1508.05L485.43 1508.05M476.37 1502.93L485.43 1508.05M476.37 1513.17L485.43 1508.05M429.43 1526.01L477.43 1527.01M468.48 1521.7L477.43 1527.01M468.27 1531.94L477.43 1527.01M429.43 1543.97L438.43 1546.97M431.46 1539.25L438.43 1546.97M428.22 1548.97L438.43 1546.97M429.43 1561.93L397.43 1564.93M406.92 1569.18L397.43 1564.93M405.96 1558.99L397.43 1564.93M555.07 1220.69L639.07 1222.69M630.15 1217.35L639.07 1222.69M629.9 1227.59L639.07 1222.69M555.07 1238.65L639.07 1241.65M630.21 1236.21L639.07 1241.65M629.85 1246.44L639.07 1241.65M555.07 1256.61L641.07 1260.61M632.27 1255.07L641.07 1260.61M631.8 1265.31L641.07 1260.61M555.07 1274.57L641.07 1280.57M632.4 1274.83L641.07 1280.57M631.69 1285.05L641.07 1280.57M555.07 1292.53L643.07 1299.53M634.46 1293.71L643.07 1299.53M633.65 1303.92L643.07 1299.53M555.07 1310.49L643.07 1316.49M634.39 1310.76L643.07 1316.49M633.7 1320.98L643.07 1316.49M555.07 1328.45L643.07 1335.45M634.46 1329.63L643.07 1335.45M633.65 1339.84L643.07 1335.45M555.07 1346.41L643.07 1353.41M634.46 1347.59L643.07 1353.41M633.65 1357.8L643.07 1353.41M555.07 1364.37L643.07 1371.37M634.46 1365.55L643.07 1371.37M633.65 1375.76L643.07 1371.37M555.07 1382.33L642.07 1390.33M633.53 1384.4L642.07 1390.33M632.59 1394.6L642.07 1390.33M555.07 1400.29L641.07 1407.29M632.47 1401.45L641.07 1407.29M631.64 1411.66L641.07 1407.29M555.07 1418.25L638.07 1424.25M629.42 1418.49L638.07 1424.25M628.68 1428.71L638.07 1424.25M555.07 1436.21L634.07 1442.21M625.44 1436.42L634.07 1442.21M624.66 1446.63L634.07 1442.21M555.07 1454.17L629.07 1458.17M620.31 1452.57L629.07 1458.17M619.76 1462.8L629.07 1458.17M555.07 1472.13L624.07 1475.13M615.25 1469.62L624.07 1475.13M614.81 1479.85L624.07 1475.13M555.07 1490.09L618.07 1492.09M609.19 1486.68L618.07 1492.09M608.87 1496.92L618.07 1492.09M555.07 1508.05L608.07 1510.05M599.22 1504.59L608.07 1510.05M598.84 1514.83L608.07 1510.05M555.07 1526.01L589.07 1528.01M580.34 1522.37L589.07 1528.01M579.74 1532.59L589.07 1528.01M555.07 1543.97L559.07 1547.97M556.3 1537.95L559.07 1547.97M549.05 1545.19L559.07 1547.97M555.07 1561.93L520.07 1561.93M529.13 1567.05L520.07 1561.93M529.13 1556.81L520.07 1561.93M662.77 1220.69L705.77 1224.69M697.24 1218.75L705.77 1224.69M696.29 1228.95L705.77 1224.69M662.77 1238.65L710.77 1247.65M702.82 1240.95L710.77 1247.65M700.93 1251.02L710.77 1247.65M662.77 1256.61L717.77 1270.61M710.27 1263.41L717.77 1270.61M707.74 1273.34L717.77 1270.61M662.77 1274.57L724.77 1290.57M717.29 1283.35L724.77 1290.57M714.73 1293.27L724.77 1290.57M662.77 1292.53L729.77 1308.53M722.16 1301.45L729.77 1308.53M719.78 1311.41L729.77 1308.53M662.77 1310.49L732.77 1327.49M725.19 1320.38L732.77 1327.49M722.77 1330.33L732.77 1327.49M662.77 1328.45L734.77 1343.45M726.96 1336.59L734.77 1343.45M724.87 1346.62L734.77 1343.45M662.77 1346.41L734.77 1360.41M726.87 1353.66L734.77 1360.41M724.91 1363.71L734.77 1360.41M662.77 1364.37L734.77 1377.37M726.78 1370.72L734.77 1377.37M724.96 1380.8L734.77 1377.37M662.77 1382.33L734.77 1393.33M726.6 1386.9L734.77 1393.33M725.05 1397.03L734.77 1393.33M662.77 1400.29L732.77 1411.29M724.63 1404.83L732.77 1411.29M723.04 1414.94L732.77 1411.29M662.77 1418.25L729.77 1428.25M721.58 1421.85L729.77 1428.25M720.07 1431.98L729.77 1428.25M662.77 1436.21L726.77 1445.21M718.52 1438.88L726.77 1445.21M717.1 1449.02L726.77 1445.21M662.77 1454.17L722.77 1461.17M714.38 1455.03L722.77 1461.17M713.19 1465.21L722.77 1461.17M662.77 1472.13L717.77 1478.13M709.33 1472.06L717.77 1478.13M708.22 1482.24L717.77 1478.13M662.77 1490.09L709.77 1495.09M701.32 1489.04L709.77 1495.09M700.23 1499.22L709.77 1495.09M662.77 1508.05L697.77 1513.05M689.54 1506.7L697.77 1513.05M688.09 1516.84L697.77 1513.05M662.77 1526.01L680.77 1530.01M673.05 1523.05L680.77 1530.01M670.83 1533.05L680.77 1530.01M662.77 1543.97L654.77 1547.97M665.16 1548.5L654.77 1547.97M660.58 1539.34L654.77 1547.97M662.77 1561.93L619.77 1562.93M628.94 1567.84L619.77 1562.93M628.71 1557.6L619.77 1562.93M770.47 1220.69L766.47 1222.69M776.86 1223.22L766.47 1222.69M772.28 1214.06L766.47 1222.69M770.47 1238.65L777.47 1239.65M769.24 1233.3L777.47 1239.65M767.79 1243.44L777.47 1239.65M770.47 1256.61L791.47 1260.61M783.54 1253.89L791.47 1260.61M781.62 1263.95L791.47 1260.61M770.47 1274.57L805.47 1281.57M797.6 1274.77L805.47 1281.57M795.59 1284.82L805.47 1281.57M770.47 1292.53L818.47 1299.53M810.26 1293.16L818.47 1299.53M808.78 1303.29L818.47 1299.53M770.47 1310.49L826.47 1318.49M818.24 1312.14L826.47 1318.49M816.79 1322.28L826.47 1318.49M770.47 1328.45L829.47 1338.45M821.41 1331.89L829.47 1338.45M819.69 1341.99L829.47 1338.45M770.47 1346.41L829.47 1358.41M821.63 1351.59L829.47 1358.41M819.58 1361.62L829.47 1358.41M770.47 1364.37L828.47 1377.37M820.76 1370.39L828.47 1377.37M818.52 1380.39L828.47 1377.37M770.47 1382.33L826.47 1396.33M818.94 1389.17L826.47 1396.33M816.45 1399.1L826.47 1396.33M770.47 1400.29L825.47 1414.29M817.97 1407.09L825.47 1414.29M815.44 1417.02L825.47 1414.29M770.47 1418.25L822.47 1434.25M815.33 1426.69L822.47 1434.25M812.32 1436.48L822.47 1434.25M770.47 1436.21L819.47 1453.21M812.6 1445.4L819.47 1453.21M809.24 1455.08L819.47 1453.21M770.47 1454.17L815.47 1472.17M808.97 1464.05L815.47 1472.17M805.17 1473.56L815.47 1472.17M770.47 1472.13L810.47 1489.13M804.15 1480.88L810.47 1489.13M800.14 1490.3L810.47 1489.13M770.47 1490.09L804.47 1508.09M798.87 1499.33L804.47 1508.09M794.08 1508.38L804.47 1508.09M770.47 1508.05L795.47 1525.05M790.87 1515.73L795.47 1525.05M785.11 1524.19L795.47 1525.05M770.47 1526.01L782.47 1541.01M780.82 1530.74L782.47 1541.01M772.82 1537.14L782.47 1541.01M770.47 1543.97L764.47 1555.97M773.1 1550.16L764.47 1555.97M763.94 1545.58L764.47 1555.97M770.47 1561.93L735.47 1570.93M745.52 1573.64L735.47 1570.93M742.97 1563.72L735.47 1570.93M860.22 1220.69L844.22 1217.69M852.18 1224.39L844.22 1217.69M854.07 1214.32L844.22 1217.69M860.22 1238.65L857.22 1233.65M857.49 1244.05L857.22 1233.65M866.27 1238.78L857.22 1233.65M860.22 1256.61L865.22 1251.61M855.2 1254.39L865.22 1251.61M862.45 1261.63L865.22 1251.61M860.22 1274.57L880.22 1268.57M870.08 1266.27L880.22 1268.57M873.03 1276.08L880.22 1268.57M860.22 1292.53L888.22 1287.53M878.41 1284.08L888.22 1287.53M880.21 1294.16L888.22 1287.53M860.22 1310.49L891.22 1306.49M881.59 1302.57L891.22 1306.49M882.9 1312.73L891.22 1306.49M860.22 1328.45L894.22 1327.45M885.03 1322.6L894.22 1327.45M885.33 1332.84L894.22 1327.45M860.22 1346.41L894.22 1347.41M885.33 1342.02L894.22 1347.41M885.03 1352.26L894.22 1347.41M860.22 1364.37L894.22 1367.37M885.66 1361.47L894.22 1367.37M884.76 1371.68L894.22 1367.37M860.22 1382.33L893.22 1388.33M885.24 1381.67L893.22 1388.33M883.4 1391.75L893.22 1388.33M860.22 1400.29L892.22 1408.29M884.69 1401.13L892.22 1408.29M882.2 1411.06L892.22 1408.29M860.22 1418.25L891.22 1427.25M883.96 1419.81L891.22 1427.25M881.1 1429.64L891.22 1427.25M860.22 1436.21L889.22 1446.21M882.34 1438.42L889.22 1446.21M879 1448.1L889.22 1446.21M860.22 1454.17L885.22 1464.17M878.72 1456.05L885.22 1464.17M874.92 1465.56L885.22 1464.17M860.22 1472.13L881.22 1483.13M875.58 1474.39L881.22 1483.13M870.83 1483.47L881.22 1483.13M860.22 1490.09L876.22 1502.09M872.06 1492.56L876.22 1502.09M865.91 1500.76L876.22 1502.09M860.22 1508.05L870.22 1522.05M869.13 1511.71L870.22 1522.05M860.8 1517.66L870.22 1522.05M860.22 1526.01L861.22 1542.01M865.77 1532.66L861.22 1542.01M855.55 1533.3L861.22 1542.01M860.22 1543.97L851.22 1560.97M859.99 1555.37L851.22 1560.97M850.93 1550.57L851.22 1560.97M914.07 1220.69L904.07 1217.69M911.27 1225.2L904.07 1217.69M914.22 1215.39L904.07 1217.69M914.07 1238.65L908.07 1223.65M906.68 1233.96L908.07 1223.65M916.19 1230.15L908.07 1223.65M914.07 1256.61L915.07 1240.61M909.4 1249.32L915.07 1240.61M919.62 1249.96L915.07 1240.61M914.07 1274.57L921.07 1258.57M912.76 1264.81L921.07 1258.57M922.14 1268.92L921.07 1258.57M914.07 1292.53L927.07 1277.53M917.28 1281.02L927.07 1277.53M925.02 1287.72L927.07 1277.53M914.07 1310.49L930.07 1297.49M919.82 1299.22L930.07 1297.49M926.28 1307.17L930.07 1297.49M914.07 1328.45L932.07 1318.45M921.68 1318.37L932.07 1318.45M926.65 1327.32L932.07 1318.45M914.07 1346.41L933.07 1338.41M922.75 1337.2L933.07 1338.41M926.72 1346.64L933.07 1338.41M914.07 1364.37L933.07 1357.37M922.81 1355.69L933.07 1357.37M926.35 1365.3L933.07 1357.37M914.07 1382.33L934.07 1377.33M924.05 1374.56L934.07 1377.33M926.54 1384.49L934.07 1377.33M914.07 1400.29L934.07 1396.29M924.19 1393.04L934.07 1396.29M926.2 1403.09L934.07 1396.29M914.07 1418.25L934.07 1416.25M924.56 1412.05L934.07 1416.25M925.58 1422.25L934.07 1416.25M914.07 1436.21L931.07 1436.21M922.02 1431.09L931.07 1436.21M922.02 1441.33L931.07 1436.21M914.07 1454.17L926.07 1455.17M917.48 1449.31L926.07 1455.17M916.63 1459.52L926.07 1455.17M914.07 1472.13L922.07 1474.13M914.54 1466.97L922.07 1474.13M912.05 1476.9L922.07 1474.13M914.07 1490.09L915.07 1495.09M918.32 1485.21L915.07 1495.09M908.28 1487.22L915.07 1495.09" fill="none" stroke="#000" stroke-width="1.7" stroke-linecap="round" stroke-linejoin="round"/>
<path d="M126.96 1288.85L139.55 1296.17L152.15 1304.08L162.99 1312.87L166.8 1324.59L162.99 1336.31L159.48 1349.5L158.01 1364.15L160.06 1378.8L165.92 1390.52L173.25 1402.24L180.57 1412.49L190.83 1421.28L202.55 1430.07L215.73 1438.86L227.45 1446.77L239.17 1454.39L250.89 1460.84L262.61 1467.58L275.8 1474.02L288.98 1479.88L302.17 1483.69L316.82 1485.74L331.47 1484.28L343.19 1479.88L354.91 1471.09L360.77 1460.84L362.23 1446.19L363.11 1431.54L363.7 1413.96L363.7 1396.38L363.7 1378.8L364.28 1361.22L365.16 1343.64L366.63 1328.99L369.56 1312.87L372.49 1296.76L373.95 1280.64L375.42 1264.53L376.88 1246.95L378.35 1229.37" fill="none" stroke="#000" stroke-width="3.3" stroke-linecap="round" stroke-dasharray="3.2 10.24"/>
<path d="M106.5 1580.4L106.5 1207.2L986.5 1207.2L986.5 1444.4L852 1580.4M94.5 1580.4L987.25 1580.4M106.5 1447.9L240 1580.4M106.5 1580.4v11.5M150.5 1580.4v8.5M194.5 1580.4v8.5M238.5 1580.4v8.5M282.5 1580.4v8.5M326.5 1580.4v11.5M370.5 1580.4v8.5M414.5 1580.4v8.5M458.5 1580.4v8.5M502.5 1580.4v8.5M546.5 1580.4v11.5M590.5 1580.4v8.5M634.5 1580.4v8.5M678.5 1580.4v8.5M722.5 1580.4v8.5M766.5 1580.4v11.5M810.5 1580.4v8.5M854.5 1580.4v8.5M898.5 1580.4v8.5M942.5 1580.4v8.5M986.5 1580.4v11.5M106.5 1580.4h-12M106.5 1558.4h-9M106.5 1536.4h-9M106.5 1514.4h-9M106.5 1492.4h-12M106.5 1470.4h-9M106.5 1448.4h-9M106.5 1426.4h-9M106.5 1404.4h-12M106.5 1382.4h-9M106.5 1360.4h-9M106.5 1338.4h-9M106.5 1316.4h-12M106.5 1294.4h-9M106.5 1272.4h-9M106.5 1250.4h-9M106.5 1228.4h-12" fill="none" stroke="#000" stroke-width="1.6" stroke-linecap="butt" stroke-linejoin="miter"/>
<text x="106" y="1619.6" text-anchor="middle" font-size="26">0.00</text>
<text x="326" y="1619.6" text-anchor="middle" font-size="26">0.25</text>
<text x="546" y="1619.6" text-anchor="middle" font-size="26">0.50</text>
<text x="766" y="1619.6" text-anchor="middle" font-size="26">0.75</text>
<text x="986" y="1619.6" text-anchor="middle" font-size="26">1.00</text>
<text transform="translate(80 1580.4) rotate(-90)" text-anchor="middle" font-size="25.5">0.0</text>
<text transform="translate(80 1492.4) rotate(-90)" text-anchor="middle" font-size="25.5">0.1</text>
<text transform="translate(80 1404.4) rotate(-90)" text-anchor="middle" font-size="25.5">0.2</text>
<text transform="translate(80 1316.4) rotate(-90)" text-anchor="middle" font-size="25.5">0.3</text>
<text transform="translate(80 1228.4) rotate(-90)" text-anchor="middle" font-size="25.5">0.4</text>
<text transform="translate(42.7 1402) rotate(-90)" font-size="28"><tspan x="0" font-style="italic">z</tspan><tspan x="13.8" font-size="39" dy="2">/</tspan><tspan x="27.4" dy="-2" font-style="italic">W</tspan><tspan x="62.4">(-)</tspan></text>
<text y="1647" font-size="28"><tspan x="509.5" font-style="italic">y</tspan><tspan x="527" font-size="46" dy="4">/</tspan><tspan x="541" dy="-4" font-style="italic">W</tspan><tspan x="578.4">(-)</tspan></text>
<text x="27" y="1197.2" font-size="37">(c)</text>
</svg></body></html>
